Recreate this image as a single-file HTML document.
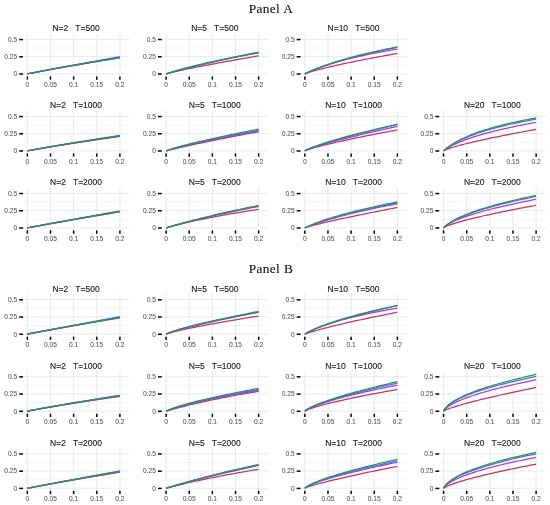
<!DOCTYPE html>
<html><head><meta charset="utf-8"><title>Panels</title><style>
html,body{margin:0;padding:0;background:#fff;overflow:hidden;width:550px;height:505px;}
svg{display:block;}
.mj{stroke:#E6E6E6;stroke-width:0.9;}
.mn{stroke:#F0F0F0;stroke-width:0.7;}
.ln{fill:none;stroke-width:1.25;stroke-linejoin:round;}
.tk{stroke:#000;stroke-width:1.5;}
text{font-family:"Liberation Sans",Arial,sans-serif;}
.yl{font-size:6.65px;fill:#555;stroke:#555;stroke-width:0.06px;text-anchor:end;}
.xl{font-size:6.65px;fill:#555;stroke:#555;stroke-width:0.06px;text-anchor:middle;}
.ti{font-size:8.5px;fill:#1a1a1a;stroke:#1a1a1a;stroke-width:0.12px;text-anchor:middle;}
.pn{font-family:"Liberation Serif","Times New Roman",serif;font-size:13.3px;letter-spacing:0.4px;fill:#111;stroke:#111;stroke-width:0.12px;text-anchor:middle;}
</style></head>
<body><svg width="550" height="505" viewBox="0 0 550 505">
<text x="270.9" y="13.0" class="pn">Panel A</text>
<text x="270.9" y="273.35" class="pn">Panel B</text>
<line x1="22.75" x2="129.35" y1="65.24" y2="65.24" class="mn"/>
<line x1="22.75" x2="129.35" y1="48.01" y2="48.01" class="mn"/>
<line x1="22.75" x2="129.35" y1="73.85" y2="73.85" class="mj"/>
<line x1="22.75" x2="129.35" y1="56.62" y2="56.62" class="mj"/>
<line x1="22.75" x2="129.35" y1="39.4" y2="39.4" class="mj"/>
<line x1="27.35" x2="27.35" y1="33.35" y2="76.4" class="mj"/>
<line x1="50.49" x2="50.49" y1="33.35" y2="76.4" class="mj"/>
<line x1="73.62" x2="73.62" y1="33.35" y2="76.4" class="mj"/>
<line x1="96.76" x2="96.76" y1="33.35" y2="76.4" class="mj"/>
<line x1="119.9" x2="119.9" y1="33.35" y2="76.4" class="mj"/>
<polyline points="27.35,73.85 28.28,73.68 29.2,73.5 30.13,73.33 31.05,73.16 31.98,72.99 33.13,72.77 35.36,72.36 37.58,71.95 39.81,71.54 42.03,71.14 44.26,70.73 46.48,70.33 48.71,69.92 50.93,69.52 53.16,69.12 55.38,68.72 57.61,68.32 59.83,67.92 62.06,67.52 64.28,67.13 66.51,66.73 68.73,66.34 70.96,65.95 73.18,65.55 75.4,65.16 77.63,64.77 79.85,64.38 82.08,63.99 84.3,63.61 86.53,63.22 88.75,62.83 90.98,62.45 93.2,62.07 95.43,61.68 97.65,61.3 99.88,60.92 102.1,60.54 104.33,60.16 106.55,59.78 108.78,59.4 111,59.02 113.23,58.64 115.45,58.27 117.68,57.89 119.9,57.52" stroke="#C23466" class="ln"/>
<polyline points="27.35,73.85 28.28,73.68 29.2,73.5 30.13,73.33 31.05,73.16 31.98,72.98 33.13,72.77 35.36,72.36 37.58,71.94 39.81,71.53 42.03,71.12 44.26,70.72 46.48,70.31 48.71,69.9 50.93,69.5 53.16,69.09 55.38,68.69 57.61,68.29 59.83,67.89 62.06,67.49 64.28,67.09 66.51,66.69 68.73,66.29 70.96,65.9 73.18,65.5 75.4,65.11 77.63,64.72 79.85,64.32 82.08,63.93 84.3,63.54 86.53,63.15 88.75,62.76 90.98,62.37 93.2,61.98 95.43,61.6 97.65,61.21 99.88,60.83 102.1,60.44 104.33,60.06 106.55,59.67 108.78,59.29 111,58.91 113.23,58.53 115.45,58.15 117.68,57.77 119.9,57.39" stroke="#A93BDC" class="ln"/>
<polyline points="27.35,73.85 28.28,73.66 29.2,73.48 30.13,73.3 31.05,73.12 31.98,72.94 33.13,72.71 35.36,72.28 37.58,71.86 39.81,71.43 42.03,71.01 44.26,70.59 46.48,70.17 48.71,69.75 50.93,69.33 53.16,68.91 55.38,68.5 57.61,68.08 59.83,67.67 62.06,67.25 64.28,66.84 66.51,66.43 68.73,66.02 70.96,65.6 73.18,65.19 75.4,64.78 77.63,64.37 79.85,63.96 82.08,63.55 84.3,63.14 86.53,62.73 88.75,62.33 90.98,61.92 93.2,61.51 95.43,61.1 97.65,60.7 99.88,60.29 102.1,59.88 104.33,59.48 106.55,59.07 108.78,58.66 111,58.26 113.23,57.85 115.45,57.45 117.68,57.04 119.9,56.64" stroke="#4671EF" class="ln"/>
<polyline points="27.35,73.85 28.28,73.66 29.2,73.47 30.13,73.28 31.05,73.1 31.98,72.91 33.13,72.68 35.36,72.24 37.58,71.8 39.81,71.36 42.03,70.93 44.26,70.51 46.48,70.09 48.71,69.67 50.93,69.26 53.16,68.85 55.38,68.44 57.61,68.04 59.83,67.64 62.06,67.24 64.28,66.85 66.51,66.46 68.73,66.07 70.96,65.69 73.18,65.31 75.4,64.93 77.63,64.55 79.85,64.18 82.08,63.81 84.3,63.44 86.53,63.08 88.75,62.71 90.98,62.35 93.2,62 95.43,61.64 97.65,61.29 99.88,60.94 102.1,60.59 104.33,60.24 106.55,59.9 108.78,59.55 111,59.21 113.23,58.87 115.45,58.54 117.68,58.2 119.9,57.87" stroke="#2F9052" class="ln"/>
<line x1="19.2" x2="23" y1="74" y2="74" class="tk"/>
<line x1="19.2" x2="23" y1="56.77" y2="56.77" class="tk"/>
<line x1="19.2" x2="23" y1="39.55" y2="39.55" class="tk"/>
<line x1="27.35" x2="27.35" y1="76.4" y2="79.65" class="tk"/>
<line x1="50.49" x2="50.49" y1="76.4" y2="79.65" class="tk"/>
<line x1="73.62" x2="73.62" y1="76.4" y2="79.65" class="tk"/>
<line x1="96.76" x2="96.76" y1="76.4" y2="79.65" class="tk"/>
<line x1="119.9" x2="119.9" y1="76.4" y2="79.65" class="tk"/>
<text x="17.25" y="76.25" class="yl">0</text>
<text x="17.25" y="59.02" class="yl">0.25</text>
<text x="17.25" y="41.8" class="yl">0.5</text>
<text x="27.35" y="86.95" class="xl">0</text>
<text x="50.49" y="86.95" class="xl">0.05</text>
<text x="73.62" y="86.95" class="xl">0.1</text>
<text x="96.76" y="86.95" class="xl">0.15</text>
<text x="119.9" y="86.95" class="xl">0.2</text>
<text x="76.05" y="31.25" class="ti">N=2&#160;&#160;&#160;T=500</text>
<line x1="161.49" x2="268.09" y1="65.24" y2="65.24" class="mn"/>
<line x1="161.49" x2="268.09" y1="48.01" y2="48.01" class="mn"/>
<line x1="161.49" x2="268.09" y1="73.85" y2="73.85" class="mj"/>
<line x1="161.49" x2="268.09" y1="56.62" y2="56.62" class="mj"/>
<line x1="161.49" x2="268.09" y1="39.4" y2="39.4" class="mj"/>
<line x1="166.09" x2="166.09" y1="33.35" y2="76.4" class="mj"/>
<line x1="189.23" x2="189.23" y1="33.35" y2="76.4" class="mj"/>
<line x1="212.37" x2="212.37" y1="33.35" y2="76.4" class="mj"/>
<line x1="235.5" x2="235.5" y1="33.35" y2="76.4" class="mj"/>
<line x1="258.64" x2="258.64" y1="33.35" y2="76.4" class="mj"/>
<polyline points="166.09,73.85 167.02,73.56 167.94,73.31 168.87,73.06 169.79,72.83 170.72,72.6 171.87,72.32 174.1,71.81 176.32,71.3 178.55,70.82 180.77,70.34 183,69.87 185.22,69.4 187.45,68.94 189.67,68.49 191.9,68.05 194.12,67.6 196.35,67.17 198.57,66.73 200.8,66.3 203.02,65.87 205.25,65.45 207.47,65.02 209.7,64.6 211.92,64.19 214.14,63.77 216.37,63.36 218.59,62.95 220.82,62.54 223.04,62.14 225.27,61.73 227.49,61.33 229.72,60.93 231.94,60.53 234.17,60.13 236.39,59.73 238.62,59.34 240.84,58.95 243.07,58.55 245.29,58.16 247.52,57.77 249.74,57.38 251.97,57 254.19,56.61 256.42,56.23 258.64,55.84" stroke="#C23466" class="ln"/>
<polyline points="166.09,73.85 167.02,73.59 167.94,73.33 168.87,73.08 169.79,72.82 170.72,72.57 171.87,72.25 174.1,71.65 176.32,71.06 178.55,70.47 180.77,69.89 183,69.31 185.22,68.74 187.45,68.18 189.67,67.62 191.9,67.07 194.12,66.52 196.35,65.98 198.57,65.44 200.8,64.91 203.02,64.38 205.25,63.86 207.47,63.35 209.7,62.83 211.92,62.32 214.14,61.82 216.37,61.32 218.59,60.82 220.82,60.33 223.04,59.84 225.27,59.36 227.49,58.88 229.72,58.4 231.94,57.93 234.17,57.46 236.39,56.99 238.62,56.53 240.84,56.06 243.07,55.61 245.29,55.15 247.52,54.7 249.74,54.25 251.97,53.81 254.19,53.37 256.42,52.93 258.64,52.49" stroke="#A93BDC" class="ln"/>
<polyline points="166.09,73.85 167.02,73.58 167.94,73.32 168.87,73.05 169.79,72.79 170.72,72.53 171.87,72.2 174.1,71.58 176.32,70.97 178.55,70.37 180.77,69.77 183,69.18 185.22,68.6 187.45,68.02 189.67,67.45 191.9,66.89 194.12,66.33 196.35,65.78 198.57,65.23 200.8,64.69 203.02,64.15 205.25,63.62 207.47,63.1 209.7,62.57 211.92,62.06 214.14,61.55 216.37,61.04 218.59,60.54 220.82,60.04 223.04,59.54 225.27,59.05 227.49,58.57 229.72,58.08 231.94,57.61 234.17,57.13 236.39,56.66 238.62,56.19 240.84,55.73 243.07,55.27 245.29,54.81 247.52,54.36 249.74,53.91 251.97,53.46 254.19,53.02 256.42,52.57 258.64,52.14" stroke="#4671EF" class="ln"/>
<polyline points="166.09,73.85 167.02,73.55 167.94,73.25 168.87,72.96 169.79,72.66 170.72,72.38 171.87,72.02 174.1,71.34 176.32,70.68 178.55,70.04 180.77,69.41 183,68.79 185.22,68.18 187.45,67.59 189.67,67.01 191.9,66.44 194.12,65.88 196.35,65.33 198.57,64.79 200.8,64.26 203.02,63.74 205.25,63.23 207.47,62.72 209.7,62.23 211.92,61.74 214.14,61.26 216.37,60.79 218.59,60.32 220.82,59.86 223.04,59.41 225.27,58.97 227.49,58.53 229.72,58.1 231.94,57.67 234.17,57.25 236.39,56.84 238.62,56.43 240.84,56.02 243.07,55.62 245.29,55.23 247.52,54.84 249.74,54.46 251.97,54.08 254.19,53.7 256.42,53.33 258.64,52.97" stroke="#2F9052" class="ln"/>
<line x1="157.94" x2="161.74" y1="74" y2="74" class="tk"/>
<line x1="157.94" x2="161.74" y1="56.77" y2="56.77" class="tk"/>
<line x1="157.94" x2="161.74" y1="39.55" y2="39.55" class="tk"/>
<line x1="166.09" x2="166.09" y1="76.4" y2="79.65" class="tk"/>
<line x1="189.23" x2="189.23" y1="76.4" y2="79.65" class="tk"/>
<line x1="212.37" x2="212.37" y1="76.4" y2="79.65" class="tk"/>
<line x1="235.5" x2="235.5" y1="76.4" y2="79.65" class="tk"/>
<line x1="258.64" x2="258.64" y1="76.4" y2="79.65" class="tk"/>
<text x="155.99" y="76.25" class="yl">0</text>
<text x="155.99" y="59.02" class="yl">0.25</text>
<text x="155.99" y="41.8" class="yl">0.5</text>
<text x="166.09" y="86.95" class="xl">0</text>
<text x="189.23" y="86.95" class="xl">0.05</text>
<text x="212.37" y="86.95" class="xl">0.1</text>
<text x="235.5" y="86.95" class="xl">0.15</text>
<text x="258.64" y="86.95" class="xl">0.2</text>
<text x="214.79" y="31.25" class="ti">N=5&#160;&#160;&#160;T=500</text>
<line x1="300.23" x2="406.83" y1="65.24" y2="65.24" class="mn"/>
<line x1="300.23" x2="406.83" y1="48.01" y2="48.01" class="mn"/>
<line x1="300.23" x2="406.83" y1="73.85" y2="73.85" class="mj"/>
<line x1="300.23" x2="406.83" y1="56.62" y2="56.62" class="mj"/>
<line x1="300.23" x2="406.83" y1="39.4" y2="39.4" class="mj"/>
<line x1="304.83" x2="304.83" y1="33.35" y2="76.4" class="mj"/>
<line x1="327.97" x2="327.97" y1="33.35" y2="76.4" class="mj"/>
<line x1="351.11" x2="351.11" y1="33.35" y2="76.4" class="mj"/>
<line x1="374.24" x2="374.24" y1="33.35" y2="76.4" class="mj"/>
<line x1="397.38" x2="397.38" y1="33.35" y2="76.4" class="mj"/>
<polyline points="304.83,73.85 305.76,73.51 306.68,73.18 307.61,72.87 308.53,72.57 309.46,72.27 310.61,71.91 312.84,71.25 315.06,70.62 317.29,70.01 319.51,69.42 321.74,68.84 323.96,68.28 326.19,67.74 328.41,67.2 330.64,66.68 332.86,66.16 335.09,65.65 337.31,65.16 339.54,64.66 341.76,64.18 343.99,63.7 346.21,63.23 348.44,62.76 350.66,62.29 352.88,61.84 355.11,61.38 357.33,60.94 359.56,60.49 361.78,60.05 364.01,59.62 366.23,59.18 368.46,58.75 370.68,58.33 372.91,57.91 375.13,57.49 377.36,57.07 379.58,56.66 381.81,56.25 384.03,55.84 386.26,55.43 388.48,55.03 390.71,54.63 392.93,54.23 395.16,53.83 397.38,53.44" stroke="#C23466" class="ln"/>
<polyline points="304.83,73.85 305.76,73.4 306.68,72.96 307.61,72.52 308.53,72.1 309.46,71.68 310.61,71.17 312.84,70.23 315.06,69.32 317.29,68.45 319.51,67.62 321.74,66.81 323.96,66.03 326.19,65.28 328.41,64.56 330.64,63.85 332.86,63.17 335.09,62.51 337.31,61.87 339.54,61.24 341.76,60.63 343.99,60.04 346.21,59.46 348.44,58.9 350.66,58.35 352.88,57.81 355.11,57.29 357.33,56.78 359.56,56.28 361.78,55.78 364.01,55.3 366.23,54.83 368.46,54.37 370.68,53.92 372.91,53.47 375.13,53.04 377.36,52.61 379.58,52.19 381.81,51.78 384.03,51.37 386.26,50.97 388.48,50.58 390.71,50.19 392.93,49.81 395.16,49.44 397.38,49.07" stroke="#A93BDC" class="ln"/>
<polyline points="304.83,73.85 305.76,73.4 306.68,72.97 307.61,72.53 308.53,72.11 309.46,71.69 310.61,71.18 312.84,70.21 315.06,69.28 317.29,68.39 319.51,67.51 321.74,66.67 323.96,65.85 326.19,65.06 328.41,64.28 330.64,63.53 332.86,62.8 335.09,62.08 337.31,61.39 339.54,60.71 341.76,60.04 343.99,59.39 346.21,58.76 348.44,58.14 350.66,57.53 352.88,56.94 355.11,56.35 357.33,55.78 359.56,55.22 361.78,54.67 364.01,54.13 366.23,53.6 368.46,53.08 370.68,52.57 372.91,52.07 375.13,51.58 377.36,51.09 379.58,50.61 381.81,50.14 384.03,49.68 386.26,49.22 388.48,48.78 390.71,48.33 392.93,47.9 395.16,47.47 397.38,47.05" stroke="#4671EF" class="ln"/>
<polyline points="304.83,73.85 305.76,73.42 306.68,72.99 307.61,72.57 308.53,72.16 309.46,71.75 310.61,71.25 312.84,70.32 315.06,69.42 317.29,68.55 319.51,67.7 321.74,66.88 323.96,66.09 326.19,65.31 328.41,64.56 330.64,63.82 332.86,63.1 335.09,62.4 337.31,61.72 339.54,61.05 341.76,60.39 343.99,59.75 346.21,59.12 348.44,58.51 350.66,57.9 352.88,57.31 355.11,56.73 357.33,56.15 359.56,55.59 361.78,55.04 364.01,54.49 366.23,53.96 368.46,53.43 370.68,52.91 372.91,52.4 375.13,51.9 377.36,51.4 379.58,50.91 381.81,50.43 384.03,49.95 386.26,49.48 388.48,49.01 390.71,48.56 392.93,48.1 395.16,47.66 397.38,47.21" stroke="#2F9052" class="ln"/>
<line x1="296.68" x2="300.48" y1="74" y2="74" class="tk"/>
<line x1="296.68" x2="300.48" y1="56.77" y2="56.77" class="tk"/>
<line x1="296.68" x2="300.48" y1="39.55" y2="39.55" class="tk"/>
<line x1="304.83" x2="304.83" y1="76.4" y2="79.65" class="tk"/>
<line x1="327.97" x2="327.97" y1="76.4" y2="79.65" class="tk"/>
<line x1="351.11" x2="351.11" y1="76.4" y2="79.65" class="tk"/>
<line x1="374.24" x2="374.24" y1="76.4" y2="79.65" class="tk"/>
<line x1="397.38" x2="397.38" y1="76.4" y2="79.65" class="tk"/>
<text x="294.73" y="76.25" class="yl">0</text>
<text x="294.73" y="59.02" class="yl">0.25</text>
<text x="294.73" y="41.8" class="yl">0.5</text>
<text x="304.83" y="86.95" class="xl">0</text>
<text x="327.97" y="86.95" class="xl">0.05</text>
<text x="351.11" y="86.95" class="xl">0.1</text>
<text x="374.24" y="86.95" class="xl">0.15</text>
<text x="397.38" y="86.95" class="xl">0.2</text>
<text x="353.53" y="31.25" class="ti">N=10&#160;&#160;&#160;T=500</text>
<line x1="22.75" x2="129.35" y1="142.23" y2="142.23" class="mn"/>
<line x1="22.75" x2="129.35" y1="125" y2="125" class="mn"/>
<line x1="22.75" x2="129.35" y1="150.84" y2="150.84" class="mj"/>
<line x1="22.75" x2="129.35" y1="133.62" y2="133.62" class="mj"/>
<line x1="22.75" x2="129.35" y1="116.39" y2="116.39" class="mj"/>
<line x1="27.35" x2="27.35" y1="110.34" y2="153.39" class="mj"/>
<line x1="50.49" x2="50.49" y1="110.34" y2="153.39" class="mj"/>
<line x1="73.62" x2="73.62" y1="110.34" y2="153.39" class="mj"/>
<line x1="96.76" x2="96.76" y1="110.34" y2="153.39" class="mj"/>
<line x1="119.9" x2="119.9" y1="110.34" y2="153.39" class="mj"/>
<polyline points="27.35,150.84 28.28,150.68 29.2,150.51 30.13,150.35 31.05,150.19 31.98,150.02 33.13,149.82 35.36,149.44 37.58,149.05 39.81,148.67 42.03,148.3 44.26,147.92 46.48,147.55 48.71,147.18 50.93,146.81 53.16,146.45 55.38,146.08 57.61,145.72 59.83,145.36 62.06,145.01 64.28,144.65 66.51,144.3 68.73,143.95 70.96,143.6 73.18,143.25 75.4,142.91 77.63,142.57 79.85,142.23 82.08,141.89 84.3,141.55 86.53,141.21 88.75,140.88 90.98,140.55 93.2,140.22 95.43,139.89 97.65,139.56 99.88,139.23 102.1,138.91 104.33,138.58 106.55,138.26 108.78,137.94 111,137.62 113.23,137.3 115.45,136.99 117.68,136.67 119.9,136.36" stroke="#C23466" class="ln"/>
<polyline points="27.35,150.84 28.28,150.67 29.2,150.51 30.13,150.34 31.05,150.18 31.98,150.01 33.13,149.81 35.36,149.41 37.58,149.03 39.81,148.64 42.03,148.26 44.26,147.87 46.48,147.5 48.71,147.12 50.93,146.75 53.16,146.38 55.38,146.01 57.61,145.64 59.83,145.28 62.06,144.92 64.28,144.56 66.51,144.2 68.73,143.85 70.96,143.49 73.18,143.14 75.4,142.79 77.63,142.45 79.85,142.1 82.08,141.76 84.3,141.42 86.53,141.08 88.75,140.74 90.98,140.4 93.2,140.07 95.43,139.73 97.65,139.4 99.88,139.07 102.1,138.74 104.33,138.41 106.55,138.09 108.78,137.76 111,137.44 113.23,137.12 115.45,136.8 117.68,136.48 119.9,136.16" stroke="#A93BDC" class="ln"/>
<polyline points="27.35,150.84 28.28,150.67 29.2,150.49 30.13,150.32 31.05,150.15 31.98,149.98 33.13,149.77 35.36,149.36 37.58,148.95 39.81,148.55 42.03,148.15 44.26,147.76 46.48,147.36 48.71,146.97 50.93,146.58 53.16,146.19 55.38,145.81 57.61,145.42 59.83,145.04 62.06,144.66 64.28,144.28 66.51,143.91 68.73,143.54 70.96,143.16 73.18,142.79 75.4,142.43 77.63,142.06 79.85,141.7 82.08,141.33 84.3,140.97 86.53,140.61 88.75,140.26 90.98,139.9 93.2,139.55 95.43,139.19 97.65,138.84 99.88,138.49 102.1,138.14 104.33,137.8 106.55,137.45 108.78,137.11 111,136.76 113.23,136.42 115.45,136.08 117.68,135.74 119.9,135.4" stroke="#4671EF" class="ln"/>
<polyline points="27.35,150.84 28.28,150.67 29.2,150.5 30.13,150.33 31.05,150.16 31.98,150 33.13,149.79 35.36,149.39 37.58,148.99 39.81,148.6 42.03,148.21 44.26,147.82 46.48,147.44 48.71,147.06 50.93,146.68 53.16,146.3 55.38,145.93 57.61,145.55 59.83,145.18 62.06,144.82 64.28,144.45 66.51,144.09 68.73,143.72 70.96,143.36 73.18,143.01 75.4,142.65 77.63,142.3 79.85,141.94 82.08,141.59 84.3,141.25 86.53,140.9 88.75,140.55 90.98,140.21 93.2,139.87 95.43,139.53 97.65,139.19 99.88,138.85 102.1,138.52 104.33,138.18 106.55,137.85 108.78,137.52 111,137.19 113.23,136.86 115.45,136.54 117.68,136.21 119.9,135.89" stroke="#2F9052" class="ln"/>
<line x1="19.2" x2="23" y1="150.99" y2="150.99" class="tk"/>
<line x1="19.2" x2="23" y1="133.77" y2="133.77" class="tk"/>
<line x1="19.2" x2="23" y1="116.54" y2="116.54" class="tk"/>
<line x1="27.35" x2="27.35" y1="153.39" y2="156.64" class="tk"/>
<line x1="50.49" x2="50.49" y1="153.39" y2="156.64" class="tk"/>
<line x1="73.62" x2="73.62" y1="153.39" y2="156.64" class="tk"/>
<line x1="96.76" x2="96.76" y1="153.39" y2="156.64" class="tk"/>
<line x1="119.9" x2="119.9" y1="153.39" y2="156.64" class="tk"/>
<text x="17.25" y="153.24" class="yl">0</text>
<text x="17.25" y="136.02" class="yl">0.25</text>
<text x="17.25" y="118.79" class="yl">0.5</text>
<text x="27.35" y="163.94" class="xl">0</text>
<text x="50.49" y="163.94" class="xl">0.05</text>
<text x="73.62" y="163.94" class="xl">0.1</text>
<text x="96.76" y="163.94" class="xl">0.15</text>
<text x="119.9" y="163.94" class="xl">0.2</text>
<text x="76.05" y="108.24" class="ti">N=2&#160;&#160;&#160;T=1000</text>
<line x1="161.49" x2="268.09" y1="142.23" y2="142.23" class="mn"/>
<line x1="161.49" x2="268.09" y1="125" y2="125" class="mn"/>
<line x1="161.49" x2="268.09" y1="150.84" y2="150.84" class="mj"/>
<line x1="161.49" x2="268.09" y1="133.62" y2="133.62" class="mj"/>
<line x1="161.49" x2="268.09" y1="116.39" y2="116.39" class="mj"/>
<line x1="166.09" x2="166.09" y1="110.34" y2="153.39" class="mj"/>
<line x1="189.23" x2="189.23" y1="110.34" y2="153.39" class="mj"/>
<line x1="212.37" x2="212.37" y1="110.34" y2="153.39" class="mj"/>
<line x1="235.5" x2="235.5" y1="110.34" y2="153.39" class="mj"/>
<line x1="258.64" x2="258.64" y1="110.34" y2="153.39" class="mj"/>
<polyline points="166.09,150.84 167.02,150.61 167.94,150.37 168.87,150.14 169.79,149.92 170.72,149.69 171.87,149.41 174.1,148.88 176.32,148.36 178.55,147.85 180.77,147.34 183,146.84 185.22,146.35 187.45,145.86 189.67,145.38 191.9,144.9 194.12,144.42 196.35,143.95 198.57,143.48 200.8,143.02 203.02,142.56 205.25,142.1 207.47,141.64 209.7,141.19 211.92,140.74 214.14,140.29 216.37,139.84 218.59,139.4 220.82,138.96 223.04,138.52 225.27,138.08 227.49,137.65 229.72,137.22 231.94,136.78 234.17,136.35 236.39,135.93 238.62,135.5 240.84,135.08 243.07,134.65 245.29,134.23 247.52,133.81 249.74,133.39 251.97,132.97 254.19,132.56 256.42,132.14 258.64,131.73" stroke="#C23466" class="ln"/>
<polyline points="166.09,150.84 167.02,150.56 167.94,150.28 168.87,150.01 169.79,149.75 170.72,149.49 171.87,149.16 174.1,148.56 176.32,147.97 178.55,147.4 180.77,146.84 183,146.29 185.22,145.75 187.45,145.23 189.67,144.71 191.9,144.2 194.12,143.69 196.35,143.19 198.57,142.7 200.8,142.22 203.02,141.74 205.25,141.26 207.47,140.8 209.7,140.33 211.92,139.87 214.14,139.41 216.37,138.96 218.59,138.51 220.82,138.07 223.04,137.63 225.27,137.19 227.49,136.76 229.72,136.33 231.94,135.9 234.17,135.47 236.39,135.05 238.62,134.63 240.84,134.21 243.07,133.8 245.29,133.39 247.52,132.98 249.74,132.57 251.97,132.17 254.19,131.76 256.42,131.36 258.64,130.96" stroke="#A93BDC" class="ln"/>
<polyline points="166.09,150.84 167.02,150.51 167.94,150.2 168.87,149.9 169.79,149.61 170.72,149.32 171.87,148.98 174.1,148.33 176.32,147.72 178.55,147.12 180.77,146.54 183,145.98 185.22,145.42 187.45,144.88 189.67,144.35 191.9,143.83 194.12,143.32 196.35,142.81 198.57,142.31 200.8,141.82 203.02,141.33 205.25,140.85 207.47,140.37 209.7,139.9 211.92,139.43 214.14,138.96 216.37,138.51 218.59,138.05 220.82,137.6 223.04,137.15 225.27,136.71 227.49,136.26 229.72,135.83 231.94,135.39 234.17,134.96 236.39,134.53 238.62,134.1 240.84,133.68 243.07,133.25 245.29,132.83 247.52,132.42 249.74,132 251.97,131.59 254.19,131.18 256.42,130.77 258.64,130.36" stroke="#4671EF" class="ln"/>
<polyline points="166.09,150.84 167.02,150.5 167.94,150.17 168.87,149.85 169.79,149.55 170.72,149.25 171.87,148.88 174.1,148.2 176.32,147.54 178.55,146.91 180.77,146.29 183,145.69 185.22,145.1 187.45,144.53 189.67,143.97 191.9,143.41 194.12,142.86 196.35,142.33 198.57,141.8 200.8,141.27 203.02,140.75 205.25,140.24 207.47,139.74 209.7,139.24 211.92,138.74 214.14,138.25 216.37,137.76 218.59,137.28 220.82,136.8 223.04,136.33 225.27,135.86 227.49,135.39 229.72,134.93 231.94,134.47 234.17,134.01 236.39,133.56 238.62,133.11 240.84,132.66 243.07,132.21 245.29,131.77 247.52,131.33 249.74,130.89 251.97,130.45 254.19,130.02 256.42,129.59 258.64,129.16" stroke="#2F9052" class="ln"/>
<line x1="157.94" x2="161.74" y1="150.99" y2="150.99" class="tk"/>
<line x1="157.94" x2="161.74" y1="133.77" y2="133.77" class="tk"/>
<line x1="157.94" x2="161.74" y1="116.54" y2="116.54" class="tk"/>
<line x1="166.09" x2="166.09" y1="153.39" y2="156.64" class="tk"/>
<line x1="189.23" x2="189.23" y1="153.39" y2="156.64" class="tk"/>
<line x1="212.37" x2="212.37" y1="153.39" y2="156.64" class="tk"/>
<line x1="235.5" x2="235.5" y1="153.39" y2="156.64" class="tk"/>
<line x1="258.64" x2="258.64" y1="153.39" y2="156.64" class="tk"/>
<text x="155.99" y="153.24" class="yl">0</text>
<text x="155.99" y="136.02" class="yl">0.25</text>
<text x="155.99" y="118.79" class="yl">0.5</text>
<text x="166.09" y="163.94" class="xl">0</text>
<text x="189.23" y="163.94" class="xl">0.05</text>
<text x="212.37" y="163.94" class="xl">0.1</text>
<text x="235.5" y="163.94" class="xl">0.15</text>
<text x="258.64" y="163.94" class="xl">0.2</text>
<text x="214.79" y="108.24" class="ti">N=5&#160;&#160;&#160;T=1000</text>
<line x1="300.23" x2="406.83" y1="142.23" y2="142.23" class="mn"/>
<line x1="300.23" x2="406.83" y1="125" y2="125" class="mn"/>
<line x1="300.23" x2="406.83" y1="150.84" y2="150.84" class="mj"/>
<line x1="300.23" x2="406.83" y1="133.62" y2="133.62" class="mj"/>
<line x1="300.23" x2="406.83" y1="116.39" y2="116.39" class="mj"/>
<line x1="304.83" x2="304.83" y1="110.34" y2="153.39" class="mj"/>
<line x1="327.97" x2="327.97" y1="110.34" y2="153.39" class="mj"/>
<line x1="351.11" x2="351.11" y1="110.34" y2="153.39" class="mj"/>
<line x1="374.24" x2="374.24" y1="110.34" y2="153.39" class="mj"/>
<line x1="397.38" x2="397.38" y1="110.34" y2="153.39" class="mj"/>
<polyline points="304.83,150.84 305.76,150.44 306.68,150.09 307.61,149.76 308.53,149.45 309.46,149.15 310.61,148.78 312.84,148.12 315.06,147.49 317.29,146.88 319.51,146.29 321.74,145.72 323.96,145.16 326.19,144.61 328.41,144.07 330.64,143.55 332.86,143.03 335.09,142.52 337.31,142.01 339.54,141.52 341.76,141.02 343.99,140.54 346.21,140.06 348.44,139.58 350.66,139.11 352.88,138.64 355.11,138.18 357.33,137.72 359.56,137.26 361.78,136.81 364.01,136.36 366.23,135.91 368.46,135.47 370.68,135.03 372.91,134.59 375.13,134.16 377.36,133.73 379.58,133.3 381.81,132.87 384.03,132.45 386.26,132.02 388.48,131.6 390.71,131.19 392.93,130.77 395.16,130.36 397.38,129.94" stroke="#C23466" class="ln"/>
<polyline points="304.83,150.84 305.76,150.38 306.68,149.97 307.61,149.59 308.53,149.23 309.46,148.87 310.61,148.45 312.84,147.68 315.06,146.94 317.29,146.23 319.51,145.54 321.74,144.87 323.96,144.22 326.19,143.58 328.41,142.95 330.64,142.34 332.86,141.73 335.09,141.14 337.31,140.55 339.54,139.97 341.76,139.39 343.99,138.83 346.21,138.27 348.44,137.71 350.66,137.16 352.88,136.62 355.11,136.08 357.33,135.54 359.56,135.01 361.78,134.48 364.01,133.96 366.23,133.44 368.46,132.92 370.68,132.41 372.91,131.9 375.13,131.4 377.36,130.89 379.58,130.39 381.81,129.9 384.03,129.4 386.26,128.91 388.48,128.42 390.71,127.94 392.93,127.45 395.16,126.97 397.38,126.49" stroke="#A93BDC" class="ln"/>
<polyline points="304.83,150.84 305.76,150.36 306.68,149.92 307.61,149.51 308.53,149.12 309.46,148.75 310.61,148.29 312.84,147.45 315.06,146.66 317.29,145.89 319.51,145.15 321.74,144.42 323.96,143.72 326.19,143.03 328.41,142.35 330.64,141.69 332.86,141.03 335.09,140.39 337.31,139.75 339.54,139.13 341.76,138.51 343.99,137.89 346.21,137.29 348.44,136.69 350.66,136.09 352.88,135.51 355.11,134.92 357.33,134.34 359.56,133.77 361.78,133.2 364.01,132.64 366.23,132.08 368.46,131.52 370.68,130.97 372.91,130.42 375.13,129.87 377.36,129.33 379.58,128.79 381.81,128.25 384.03,127.72 386.26,127.19 388.48,126.66 390.71,126.13 392.93,125.61 395.16,125.09 397.38,124.57" stroke="#4671EF" class="ln"/>
<polyline points="304.83,150.84 305.76,150.31 306.68,149.83 307.61,149.38 308.53,148.95 309.46,148.54 310.61,148.05 312.84,147.15 315.06,146.31 317.29,145.5 319.51,144.73 321.74,143.98 323.96,143.25 326.19,142.54 328.41,141.84 330.64,141.16 332.86,140.5 335.09,139.84 337.31,139.2 339.54,138.57 341.76,137.94 343.99,137.33 346.21,136.72 348.44,136.12 350.66,135.53 352.88,134.94 355.11,134.36 357.33,133.79 359.56,133.22 361.78,132.66 364.01,132.1 366.23,131.55 368.46,131 370.68,130.46 372.91,129.92 375.13,129.39 377.36,128.85 379.58,128.33 381.81,127.8 384.03,127.28 386.26,126.77 388.48,126.25 390.71,125.74 392.93,125.24 395.16,124.73 397.38,124.23" stroke="#2F9052" class="ln"/>
<line x1="296.68" x2="300.48" y1="150.99" y2="150.99" class="tk"/>
<line x1="296.68" x2="300.48" y1="133.77" y2="133.77" class="tk"/>
<line x1="296.68" x2="300.48" y1="116.54" y2="116.54" class="tk"/>
<line x1="304.83" x2="304.83" y1="153.39" y2="156.64" class="tk"/>
<line x1="327.97" x2="327.97" y1="153.39" y2="156.64" class="tk"/>
<line x1="351.11" x2="351.11" y1="153.39" y2="156.64" class="tk"/>
<line x1="374.24" x2="374.24" y1="153.39" y2="156.64" class="tk"/>
<line x1="397.38" x2="397.38" y1="153.39" y2="156.64" class="tk"/>
<text x="294.73" y="153.24" class="yl">0</text>
<text x="294.73" y="136.02" class="yl">0.25</text>
<text x="294.73" y="118.79" class="yl">0.5</text>
<text x="304.83" y="163.94" class="xl">0</text>
<text x="327.97" y="163.94" class="xl">0.05</text>
<text x="351.11" y="163.94" class="xl">0.1</text>
<text x="374.24" y="163.94" class="xl">0.15</text>
<text x="397.38" y="163.94" class="xl">0.2</text>
<text x="353.53" y="108.24" class="ti">N=10&#160;&#160;&#160;T=1000</text>
<line x1="438.97" x2="545.57" y1="142.23" y2="142.23" class="mn"/>
<line x1="438.97" x2="545.57" y1="125" y2="125" class="mn"/>
<line x1="438.97" x2="545.57" y1="150.84" y2="150.84" class="mj"/>
<line x1="438.97" x2="545.57" y1="133.62" y2="133.62" class="mj"/>
<line x1="438.97" x2="545.57" y1="116.39" y2="116.39" class="mj"/>
<line x1="443.57" x2="443.57" y1="110.34" y2="153.39" class="mj"/>
<line x1="466.71" x2="466.71" y1="110.34" y2="153.39" class="mj"/>
<line x1="489.85" x2="489.85" y1="110.34" y2="153.39" class="mj"/>
<line x1="512.98" x2="512.98" y1="110.34" y2="153.39" class="mj"/>
<line x1="536.12" x2="536.12" y1="110.34" y2="153.39" class="mj"/>
<polyline points="443.57,150.84 444.5,150.31 445.42,149.88 446.35,149.5 447.27,149.15 448.2,148.81 449.35,148.41 451.58,147.68 453.8,147.01 456.03,146.36 458.25,145.74 460.48,145.14 462.7,144.56 464.93,143.99 467.15,143.44 469.38,142.9 471.6,142.36 473.83,141.84 476.05,141.33 478.28,140.83 480.5,140.33 482.73,139.84 484.95,139.36 487.18,138.88 489.4,138.41 491.62,137.94 493.85,137.48 496.07,137.02 498.3,136.57 500.52,136.12 502.75,135.67 504.97,135.23 507.2,134.8 509.42,134.36 511.65,133.93 513.87,133.51 516.1,133.08 518.32,132.66 520.55,132.24 522.77,131.83 525,131.42 527.22,131.01 529.45,130.6 531.67,130.19 533.9,129.79 536.12,129.39" stroke="#C23466" class="ln"/>
<polyline points="443.57,150.84 444.5,150.15 445.42,149.5 446.35,148.88 447.27,148.29 448.2,147.72 449.35,147.04 451.58,145.81 453.8,144.68 456.03,143.62 458.25,142.63 460.48,141.69 462.7,140.8 464.93,139.94 467.15,139.13 469.38,138.35 471.6,137.59 473.83,136.87 476.05,136.17 478.28,135.49 480.5,134.83 482.73,134.19 484.95,133.57 487.18,132.96 489.4,132.37 491.62,131.8 493.85,131.23 496.07,130.68 498.3,130.15 500.52,129.62 502.75,129.1 504.97,128.6 507.2,128.1 509.42,127.61 511.65,127.14 513.87,126.67 516.1,126.2 518.32,125.75 520.55,125.3 522.77,124.86 525,124.43 527.22,124 529.45,123.58 531.67,123.17 533.9,122.76 536.12,122.35" stroke="#A93BDC" class="ln"/>
<polyline points="443.57,150.84 444.5,150.05 445.42,149.29 446.35,148.57 447.27,147.87 448.2,147.21 449.35,146.41 451.58,144.96 453.8,143.63 456.03,142.38 458.25,141.21 460.48,140.12 462.7,139.08 464.93,138.09 467.15,137.15 469.38,136.26 471.6,135.4 473.83,134.58 476.05,133.78 478.28,133.02 480.5,132.29 482.73,131.58 484.95,130.89 487.18,130.23 489.4,129.58 491.62,128.96 493.85,128.35 496.07,127.75 498.3,127.18 500.52,126.62 502.75,126.07 504.97,125.53 507.2,125.01 509.42,124.5 511.65,124 513.87,123.51 516.1,123.03 518.32,122.56 520.55,122.1 522.77,121.65 525,121.21 527.22,120.77 529.45,120.35 531.67,119.93 533.9,119.52 536.12,119.11" stroke="#4671EF" class="ln"/>
<polyline points="443.57,150.84 444.5,150.02 445.42,149.23 446.35,148.48 447.27,147.75 448.2,147.05 449.35,146.21 451.58,144.69 453.8,143.29 456.03,141.97 458.25,140.74 460.48,139.58 462.7,138.49 464.93,137.45 467.15,136.46 469.38,135.52 471.6,134.62 473.83,133.76 476.05,132.93 478.28,132.14 480.5,131.37 482.73,130.63 484.95,129.92 487.18,129.23 489.4,128.56 491.62,127.91 493.85,127.28 496.07,126.67 498.3,126.08 500.52,125.5 502.75,124.94 504.97,124.39 507.2,123.86 509.42,123.34 511.65,122.83 513.87,122.33 516.1,121.84 518.32,121.37 520.55,120.9 522.77,120.44 525,120 527.22,119.56 529.45,119.13 531.67,118.71 533.9,118.29 536.12,117.89" stroke="#2F9052" class="ln"/>
<line x1="435.42" x2="439.22" y1="150.99" y2="150.99" class="tk"/>
<line x1="435.42" x2="439.22" y1="133.77" y2="133.77" class="tk"/>
<line x1="435.42" x2="439.22" y1="116.54" y2="116.54" class="tk"/>
<line x1="443.57" x2="443.57" y1="153.39" y2="156.64" class="tk"/>
<line x1="466.71" x2="466.71" y1="153.39" y2="156.64" class="tk"/>
<line x1="489.85" x2="489.85" y1="153.39" y2="156.64" class="tk"/>
<line x1="512.98" x2="512.98" y1="153.39" y2="156.64" class="tk"/>
<line x1="536.12" x2="536.12" y1="153.39" y2="156.64" class="tk"/>
<text x="433.47" y="153.24" class="yl">0</text>
<text x="433.47" y="136.02" class="yl">0.25</text>
<text x="433.47" y="118.79" class="yl">0.5</text>
<text x="443.57" y="163.94" class="xl">0</text>
<text x="466.71" y="163.94" class="xl">0.05</text>
<text x="489.85" y="163.94" class="xl">0.1</text>
<text x="512.98" y="163.94" class="xl">0.15</text>
<text x="536.12" y="163.94" class="xl">0.2</text>
<text x="492.27" y="108.24" class="ti">N=20&#160;&#160;&#160;T=1000</text>
<line x1="22.75" x2="129.35" y1="219.23" y2="219.23" class="mn"/>
<line x1="22.75" x2="129.35" y1="202" y2="202" class="mn"/>
<line x1="22.75" x2="129.35" y1="227.84" y2="227.84" class="mj"/>
<line x1="22.75" x2="129.35" y1="210.62" y2="210.62" class="mj"/>
<line x1="22.75" x2="129.35" y1="193.39" y2="193.39" class="mj"/>
<line x1="27.35" x2="27.35" y1="187.34" y2="230.39" class="mj"/>
<line x1="50.49" x2="50.49" y1="187.34" y2="230.39" class="mj"/>
<line x1="73.62" x2="73.62" y1="187.34" y2="230.39" class="mj"/>
<line x1="96.76" x2="96.76" y1="187.34" y2="230.39" class="mj"/>
<line x1="119.9" x2="119.9" y1="187.34" y2="230.39" class="mj"/>
<polyline points="27.35,227.84 28.28,227.67 29.2,227.5 30.13,227.33 31.05,227.17 31.98,227 33.13,226.79 35.36,226.39 37.58,225.99 39.81,225.58 42.03,225.18 44.26,224.79 46.48,224.39 48.71,223.99 50.93,223.59 53.16,223.2 55.38,222.8 57.61,222.41 59.83,222.01 62.06,221.62 64.28,221.23 66.51,220.84 68.73,220.45 70.96,220.06 73.18,219.67 75.4,219.28 77.63,218.89 79.85,218.5 82.08,218.11 84.3,217.73 86.53,217.34 88.75,216.96 90.98,216.57 93.2,216.19 95.43,215.8 97.65,215.42 99.88,215.04 102.1,214.66 104.33,214.27 106.55,213.89 108.78,213.51 111,213.13 113.23,212.75 115.45,212.37 117.68,212 119.9,211.62" stroke="#C23466" class="ln"/>
<polyline points="27.35,227.84 28.28,227.67 29.2,227.5 30.13,227.33 31.05,227.17 31.98,227 33.13,226.79 35.36,226.39 37.58,225.98 39.81,225.58 42.03,225.19 44.26,224.79 46.48,224.39 48.71,224 50.93,223.61 53.16,223.21 55.38,222.82 57.61,222.43 59.83,222.04 62.06,221.66 64.28,221.27 66.51,220.88 68.73,220.5 70.96,220.11 73.18,219.73 75.4,219.35 77.63,218.97 79.85,218.59 82.08,218.21 84.3,217.83 86.53,217.45 88.75,217.08 90.98,216.7 93.2,216.33 95.43,215.95 97.65,215.58 99.88,215.21 102.1,214.83 104.33,214.46 106.55,214.09 108.78,213.72 111,213.35 113.23,212.99 115.45,212.62 117.68,212.25 119.9,211.88" stroke="#A93BDC" class="ln"/>
<polyline points="27.35,227.84 28.28,227.66 29.2,227.49 30.13,227.31 31.05,227.14 31.98,226.96 33.13,226.74 35.36,226.32 37.58,225.9 39.81,225.49 42.03,225.07 44.26,224.65 46.48,224.24 48.71,223.83 50.93,223.41 53.16,223 55.38,222.59 57.61,222.18 59.83,221.77 62.06,221.36 64.28,220.95 66.51,220.55 68.73,220.14 70.96,219.74 73.18,219.33 75.4,218.93 77.63,218.53 79.85,218.12 82.08,217.72 84.3,217.32 86.53,216.92 88.75,216.52 90.98,216.12 93.2,215.73 95.43,215.33 97.65,214.93 99.88,214.54 102.1,214.14 104.33,213.74 106.55,213.35 108.78,212.96 111,212.56 113.23,212.17 115.45,211.78 117.68,211.39 119.9,211" stroke="#4671EF" class="ln"/>
<polyline points="27.35,227.84 28.28,227.67 29.2,227.5 30.13,227.33 31.05,227.16 31.98,226.99 33.13,226.77 35.36,226.36 37.58,225.95 39.81,225.55 42.03,225.14 44.26,224.74 46.48,224.33 48.71,223.93 50.93,223.52 53.16,223.12 55.38,222.72 57.61,222.32 59.83,221.92 62.06,221.52 64.28,221.12 66.51,220.72 68.73,220.32 70.96,219.93 73.18,219.53 75.4,219.13 77.63,218.74 79.85,218.35 82.08,217.95 84.3,217.56 86.53,217.17 88.75,216.77 90.98,216.38 93.2,215.99 95.43,215.6 97.65,215.21 99.88,214.82 102.1,214.43 104.33,214.05 106.55,213.66 108.78,213.27 111,212.88 113.23,212.5 115.45,212.11 117.68,211.73 119.9,211.34" stroke="#2F9052" class="ln"/>
<line x1="19.2" x2="23" y1="227.99" y2="227.99" class="tk"/>
<line x1="19.2" x2="23" y1="210.77" y2="210.77" class="tk"/>
<line x1="19.2" x2="23" y1="193.54" y2="193.54" class="tk"/>
<line x1="27.35" x2="27.35" y1="230.39" y2="233.64" class="tk"/>
<line x1="50.49" x2="50.49" y1="230.39" y2="233.64" class="tk"/>
<line x1="73.62" x2="73.62" y1="230.39" y2="233.64" class="tk"/>
<line x1="96.76" x2="96.76" y1="230.39" y2="233.64" class="tk"/>
<line x1="119.9" x2="119.9" y1="230.39" y2="233.64" class="tk"/>
<text x="17.25" y="230.24" class="yl">0</text>
<text x="17.25" y="213.02" class="yl">0.25</text>
<text x="17.25" y="195.79" class="yl">0.5</text>
<text x="27.35" y="240.94" class="xl">0</text>
<text x="50.49" y="240.94" class="xl">0.05</text>
<text x="73.62" y="240.94" class="xl">0.1</text>
<text x="96.76" y="240.94" class="xl">0.15</text>
<text x="119.9" y="240.94" class="xl">0.2</text>
<text x="76.05" y="185.24" class="ti">N=2&#160;&#160;&#160;T=2000</text>
<line x1="161.49" x2="268.09" y1="219.23" y2="219.23" class="mn"/>
<line x1="161.49" x2="268.09" y1="202" y2="202" class="mn"/>
<line x1="161.49" x2="268.09" y1="227.84" y2="227.84" class="mj"/>
<line x1="161.49" x2="268.09" y1="210.62" y2="210.62" class="mj"/>
<line x1="161.49" x2="268.09" y1="193.39" y2="193.39" class="mj"/>
<line x1="166.09" x2="166.09" y1="187.34" y2="230.39" class="mj"/>
<line x1="189.23" x2="189.23" y1="187.34" y2="230.39" class="mj"/>
<line x1="212.37" x2="212.37" y1="187.34" y2="230.39" class="mj"/>
<line x1="235.5" x2="235.5" y1="187.34" y2="230.39" class="mj"/>
<line x1="258.64" x2="258.64" y1="187.34" y2="230.39" class="mj"/>
<polyline points="166.09,227.84 167.02,227.59 167.94,227.33 168.87,227.08 169.79,226.83 170.72,226.59 171.87,226.28 174.1,225.71 176.32,225.14 178.55,224.59 180.77,224.04 183,223.51 185.22,222.98 187.45,222.46 189.67,221.96 191.9,221.46 194.12,220.97 196.35,220.49 198.57,220.01 200.8,219.54 203.02,219.08 205.25,218.63 207.47,218.18 209.7,217.74 211.92,217.31 214.14,216.88 216.37,216.46 218.59,216.04 220.82,215.63 223.04,215.23 225.27,214.83 227.49,214.43 229.72,214.04 231.94,213.66 234.17,213.28 236.39,212.9 238.62,212.53 240.84,212.16 243.07,211.8 245.29,211.44 247.52,211.09 249.74,210.74 251.97,210.39 254.19,210.05 256.42,209.71 258.64,209.38" stroke="#C23466" class="ln"/>
<polyline points="166.09,227.84 167.02,227.58 167.94,227.32 168.87,227.06 169.79,226.8 170.72,226.54 171.87,226.23 174.1,225.62 176.32,225.02 178.55,224.43 180.77,223.84 183,223.26 185.22,222.69 187.45,222.12 189.67,221.56 191.9,221.01 194.12,220.46 196.35,219.91 198.57,219.37 200.8,218.84 203.02,218.31 205.25,217.79 207.47,217.27 209.7,216.76 211.92,216.25 214.14,215.74 216.37,215.24 218.59,214.75 220.82,214.25 223.04,213.77 225.27,213.28 227.49,212.8 229.72,212.32 231.94,211.85 234.17,211.38 236.39,210.92 238.62,210.45 240.84,209.99 243.07,209.54 245.29,209.09 247.52,208.64 249.74,208.19 251.97,207.75 254.19,207.31 256.42,206.87 258.64,206.44" stroke="#A93BDC" class="ln"/>
<polyline points="166.09,227.84 167.02,227.57 167.94,227.29 168.87,227.02 169.79,226.75 170.72,226.48 171.87,226.15 174.1,225.51 176.32,224.88 178.55,224.26 180.77,223.65 183,223.04 185.22,222.45 187.45,221.86 189.67,221.27 191.9,220.69 194.12,220.12 196.35,219.55 198.57,218.99 200.8,218.44 203.02,217.89 205.25,217.34 207.47,216.8 209.7,216.27 211.92,215.74 214.14,215.22 216.37,214.7 218.59,214.18 220.82,213.67 223.04,213.17 225.27,212.67 227.49,212.17 229.72,211.67 231.94,211.18 234.17,210.7 236.39,210.22 238.62,209.74 240.84,209.26 243.07,208.79 245.29,208.32 247.52,207.86 249.74,207.4 251.97,206.94 254.19,206.49 256.42,206.03 258.64,205.59" stroke="#4671EF" class="ln"/>
<polyline points="166.09,227.84 167.02,227.57 167.94,227.29 168.87,227.02 169.79,226.75 170.72,226.48 171.87,226.15 174.1,225.51 176.32,224.88 178.55,224.26 180.77,223.65 183,223.04 185.22,222.45 187.45,221.86 189.67,221.27 191.9,220.69 194.12,220.12 196.35,219.55 198.57,218.99 200.8,218.44 203.02,217.89 205.25,217.34 207.47,216.8 209.7,216.27 211.92,215.74 214.14,215.22 216.37,214.7 218.59,214.18 220.82,213.67 223.04,213.17 225.27,212.67 227.49,212.17 229.72,211.67 231.94,211.18 234.17,210.7 236.39,210.22 238.62,209.74 240.84,209.26 243.07,208.79 245.29,208.32 247.52,207.86 249.74,207.4 251.97,206.94 254.19,206.49 256.42,206.03 258.64,205.59" stroke="#2F9052" class="ln"/>
<line x1="157.94" x2="161.74" y1="227.99" y2="227.99" class="tk"/>
<line x1="157.94" x2="161.74" y1="210.77" y2="210.77" class="tk"/>
<line x1="157.94" x2="161.74" y1="193.54" y2="193.54" class="tk"/>
<line x1="166.09" x2="166.09" y1="230.39" y2="233.64" class="tk"/>
<line x1="189.23" x2="189.23" y1="230.39" y2="233.64" class="tk"/>
<line x1="212.37" x2="212.37" y1="230.39" y2="233.64" class="tk"/>
<line x1="235.5" x2="235.5" y1="230.39" y2="233.64" class="tk"/>
<line x1="258.64" x2="258.64" y1="230.39" y2="233.64" class="tk"/>
<text x="155.99" y="230.24" class="yl">0</text>
<text x="155.99" y="213.02" class="yl">0.25</text>
<text x="155.99" y="195.79" class="yl">0.5</text>
<text x="166.09" y="240.94" class="xl">0</text>
<text x="189.23" y="240.94" class="xl">0.05</text>
<text x="212.37" y="240.94" class="xl">0.1</text>
<text x="235.5" y="240.94" class="xl">0.15</text>
<text x="258.64" y="240.94" class="xl">0.2</text>
<text x="214.79" y="185.24" class="ti">N=5&#160;&#160;&#160;T=2000</text>
<line x1="300.23" x2="406.83" y1="219.23" y2="219.23" class="mn"/>
<line x1="300.23" x2="406.83" y1="202" y2="202" class="mn"/>
<line x1="300.23" x2="406.83" y1="227.84" y2="227.84" class="mj"/>
<line x1="300.23" x2="406.83" y1="210.62" y2="210.62" class="mj"/>
<line x1="300.23" x2="406.83" y1="193.39" y2="193.39" class="mj"/>
<line x1="304.83" x2="304.83" y1="187.34" y2="230.39" class="mj"/>
<line x1="327.97" x2="327.97" y1="187.34" y2="230.39" class="mj"/>
<line x1="351.11" x2="351.11" y1="187.34" y2="230.39" class="mj"/>
<line x1="374.24" x2="374.24" y1="187.34" y2="230.39" class="mj"/>
<line x1="397.38" x2="397.38" y1="187.34" y2="230.39" class="mj"/>
<polyline points="304.83,227.84 305.76,227.5 306.68,227.2 307.61,226.91 308.53,226.64 309.46,226.37 310.61,226.05 312.84,225.45 315.06,224.88 317.29,224.31 319.51,223.77 321.74,223.23 323.96,222.7 326.19,222.18 328.41,221.67 330.64,221.16 332.86,220.66 335.09,220.16 337.31,219.67 339.54,219.18 341.76,218.7 343.99,218.22 346.21,217.75 348.44,217.27 350.66,216.8 352.88,216.34 355.11,215.87 357.33,215.41 359.56,214.95 361.78,214.5 364.01,214.05 366.23,213.59 368.46,213.14 370.68,212.7 372.91,212.25 375.13,211.81 377.36,211.37 379.58,210.93 381.81,210.49 384.03,210.05 386.26,209.62 388.48,209.19 390.71,208.75 392.93,208.32 395.16,207.89 397.38,207.47" stroke="#C23466" class="ln"/>
<polyline points="304.83,227.84 305.76,227.48 306.68,227.12 307.61,226.77 308.53,226.42 309.46,226.07 310.61,225.65 312.84,224.85 315.06,224.06 317.29,223.3 319.51,222.56 321.74,221.83 323.96,221.12 326.19,220.43 328.41,219.75 330.64,219.09 332.86,218.44 335.09,217.81 337.31,217.18 339.54,216.57 341.76,215.97 343.99,215.38 346.21,214.81 348.44,214.24 350.66,213.68 352.88,213.13 355.11,212.6 357.33,212.07 359.56,211.55 361.78,211.04 364.01,210.53 366.23,210.04 368.46,209.55 370.68,209.07 372.91,208.59 375.13,208.13 377.36,207.66 379.58,207.21 381.81,206.76 384.03,206.32 386.26,205.89 388.48,205.46 390.71,205.03 392.93,204.61 395.16,204.2 397.38,203.79" stroke="#A93BDC" class="ln"/>
<polyline points="304.83,227.84 305.76,227.42 306.68,227 307.61,226.6 308.53,226.21 309.46,225.83 310.61,225.37 312.84,224.51 315.06,223.68 317.29,222.89 319.51,222.13 321.74,221.39 323.96,220.67 326.19,219.97 328.41,219.29 330.64,218.63 332.86,217.98 335.09,217.35 337.31,216.72 339.54,216.11 341.76,215.52 343.99,214.93 346.21,214.35 348.44,213.78 350.66,213.22 352.88,212.67 355.11,212.12 357.33,211.59 359.56,211.06 361.78,210.53 364.01,210.02 366.23,209.5 368.46,209 370.68,208.5 372.91,208.01 375.13,207.52 377.36,207.04 379.58,206.56 381.81,206.08 384.03,205.61 386.26,205.15 388.48,204.69 390.71,204.23 392.93,203.78 395.16,203.33 397.38,202.88" stroke="#4671EF" class="ln"/>
<polyline points="304.83,227.84 305.76,227.39 306.68,226.96 307.61,226.54 308.53,226.12 309.46,225.71 310.61,225.22 312.84,224.29 315.06,223.4 317.29,222.55 319.51,221.73 321.74,220.94 323.96,220.17 326.19,219.42 328.41,218.7 330.64,217.99 332.86,217.31 335.09,216.63 337.31,215.98 339.54,215.34 341.76,214.71 343.99,214.1 346.21,213.5 348.44,212.9 350.66,212.32 352.88,211.75 355.11,211.2 357.33,210.64 359.56,210.1 361.78,209.57 364.01,209.04 366.23,208.53 368.46,208.02 370.68,207.51 372.91,207.02 375.13,206.53 377.36,206.04 379.58,205.57 381.81,205.1 384.03,204.63 386.26,204.17 388.48,203.72 390.71,203.27 392.93,202.82 395.16,202.38 397.38,201.95" stroke="#2F9052" class="ln"/>
<line x1="296.68" x2="300.48" y1="227.99" y2="227.99" class="tk"/>
<line x1="296.68" x2="300.48" y1="210.77" y2="210.77" class="tk"/>
<line x1="296.68" x2="300.48" y1="193.54" y2="193.54" class="tk"/>
<line x1="304.83" x2="304.83" y1="230.39" y2="233.64" class="tk"/>
<line x1="327.97" x2="327.97" y1="230.39" y2="233.64" class="tk"/>
<line x1="351.11" x2="351.11" y1="230.39" y2="233.64" class="tk"/>
<line x1="374.24" x2="374.24" y1="230.39" y2="233.64" class="tk"/>
<line x1="397.38" x2="397.38" y1="230.39" y2="233.64" class="tk"/>
<text x="294.73" y="230.24" class="yl">0</text>
<text x="294.73" y="213.02" class="yl">0.25</text>
<text x="294.73" y="195.79" class="yl">0.5</text>
<text x="304.83" y="240.94" class="xl">0</text>
<text x="327.97" y="240.94" class="xl">0.05</text>
<text x="351.11" y="240.94" class="xl">0.1</text>
<text x="374.24" y="240.94" class="xl">0.15</text>
<text x="397.38" y="240.94" class="xl">0.2</text>
<text x="353.53" y="185.24" class="ti">N=10&#160;&#160;&#160;T=2000</text>
<line x1="438.97" x2="545.57" y1="219.23" y2="219.23" class="mn"/>
<line x1="438.97" x2="545.57" y1="202" y2="202" class="mn"/>
<line x1="438.97" x2="545.57" y1="227.84" y2="227.84" class="mj"/>
<line x1="438.97" x2="545.57" y1="210.62" y2="210.62" class="mj"/>
<line x1="438.97" x2="545.57" y1="193.39" y2="193.39" class="mj"/>
<line x1="443.57" x2="443.57" y1="187.34" y2="230.39" class="mj"/>
<line x1="466.71" x2="466.71" y1="187.34" y2="230.39" class="mj"/>
<line x1="489.85" x2="489.85" y1="187.34" y2="230.39" class="mj"/>
<line x1="512.98" x2="512.98" y1="187.34" y2="230.39" class="mj"/>
<line x1="536.12" x2="536.12" y1="187.34" y2="230.39" class="mj"/>
<polyline points="443.57,227.84 444.5,227.22 445.42,226.73 446.35,226.3 447.27,225.9 448.2,225.53 449.35,225.09 451.58,224.3 453.8,223.56 456.03,222.87 458.25,222.2 460.48,221.56 462.7,220.95 464.93,220.35 467.15,219.77 469.38,219.2 471.6,218.64 473.83,218.1 476.05,217.56 478.28,217.04 480.5,216.52 482.73,216.01 484.95,215.51 487.18,215.02 489.4,214.53 491.62,214.05 493.85,213.58 496.07,213.11 498.3,212.64 500.52,212.18 502.75,211.73 504.97,211.28 507.2,210.83 509.42,210.39 511.65,209.95 513.87,209.52 516.1,209.09 518.32,208.66 520.55,208.23 522.77,207.81 525,207.39 527.22,206.98 529.45,206.57 531.67,206.16 533.9,205.75 536.12,205.35" stroke="#C23466" class="ln"/>
<polyline points="443.57,227.84 444.5,226.92 445.42,226.14 446.35,225.45 447.27,224.82 448.2,224.23 449.35,223.55 451.58,222.36 453.8,221.28 456.03,220.28 458.25,219.35 460.48,218.47 462.7,217.64 464.93,216.84 467.15,216.08 469.38,215.34 471.6,214.63 473.83,213.94 476.05,213.26 478.28,212.61 480.5,211.98 482.73,211.36 484.95,210.75 487.18,210.16 489.4,209.58 491.62,209.01 493.85,208.45 496.07,207.9 498.3,207.36 500.52,206.83 502.75,206.31 504.97,205.8 507.2,205.29 509.42,204.79 511.65,204.3 513.87,203.81 516.1,203.33 518.32,202.86 520.55,202.39 522.77,201.93 525,201.47 527.22,201.02 529.45,200.58 531.67,200.13 533.9,199.7 536.12,199.26" stroke="#A93BDC" class="ln"/>
<polyline points="443.57,227.84 444.5,226.96 445.42,226.15 446.35,225.41 447.27,224.71 448.2,224.05 449.35,223.28 451.58,221.9 453.8,220.66 456.03,219.5 458.25,218.43 460.48,217.42 462.7,216.46 464.93,215.55 467.15,214.67 469.38,213.84 471.6,213.03 473.83,212.26 476.05,211.51 478.28,210.78 480.5,210.07 482.73,209.39 484.95,208.72 487.18,208.07 489.4,207.43 491.62,206.81 493.85,206.2 496.07,205.61 498.3,205.03 500.52,204.45 502.75,203.89 504.97,203.34 507.2,202.8 509.42,202.27 511.65,201.75 513.87,201.24 516.1,200.73 518.32,200.23 520.55,199.74 522.77,199.25 525,198.78 527.22,198.31 529.45,197.84 531.67,197.38 533.9,196.93 536.12,196.48" stroke="#4671EF" class="ln"/>
<polyline points="443.57,227.84 444.5,226.87 445.42,226 446.35,225.2 447.27,224.47 448.2,223.78 449.35,222.97 451.58,221.55 453.8,220.26 456.03,219.07 458.25,217.97 460.48,216.93 462.7,215.95 464.93,215.02 467.15,214.12 469.38,213.26 471.6,212.44 473.83,211.64 476.05,210.87 478.28,210.13 480.5,209.4 482.73,208.7 484.95,208.01 487.18,207.34 489.4,206.68 491.62,206.04 493.85,205.42 496.07,204.8 498.3,204.2 500.52,203.61 502.75,203.04 504.97,202.47 507.2,201.91 509.42,201.36 511.65,200.82 513.87,200.28 516.1,199.76 518.32,199.24 520.55,198.73 522.77,198.23 525,197.73 527.22,197.24 529.45,196.76 531.67,196.28 533.9,195.81 536.12,195.35" stroke="#2F9052" class="ln"/>
<line x1="435.42" x2="439.22" y1="227.99" y2="227.99" class="tk"/>
<line x1="435.42" x2="439.22" y1="210.77" y2="210.77" class="tk"/>
<line x1="435.42" x2="439.22" y1="193.54" y2="193.54" class="tk"/>
<line x1="443.57" x2="443.57" y1="230.39" y2="233.64" class="tk"/>
<line x1="466.71" x2="466.71" y1="230.39" y2="233.64" class="tk"/>
<line x1="489.85" x2="489.85" y1="230.39" y2="233.64" class="tk"/>
<line x1="512.98" x2="512.98" y1="230.39" y2="233.64" class="tk"/>
<line x1="536.12" x2="536.12" y1="230.39" y2="233.64" class="tk"/>
<text x="433.47" y="230.24" class="yl">0</text>
<text x="433.47" y="213.02" class="yl">0.25</text>
<text x="433.47" y="195.79" class="yl">0.5</text>
<text x="443.57" y="240.94" class="xl">0</text>
<text x="466.71" y="240.94" class="xl">0.05</text>
<text x="489.85" y="240.94" class="xl">0.1</text>
<text x="512.98" y="240.94" class="xl">0.15</text>
<text x="536.12" y="240.94" class="xl">0.2</text>
<text x="492.27" y="185.24" class="ti">N=20&#160;&#160;&#160;T=2000</text>
<line x1="22.75" x2="129.35" y1="325.49" y2="325.49" class="mn"/>
<line x1="22.75" x2="129.35" y1="308.26" y2="308.26" class="mn"/>
<line x1="22.75" x2="129.35" y1="334.1" y2="334.1" class="mj"/>
<line x1="22.75" x2="129.35" y1="316.88" y2="316.88" class="mj"/>
<line x1="22.75" x2="129.35" y1="299.65" y2="299.65" class="mj"/>
<line x1="27.35" x2="27.35" y1="293.6" y2="336.65" class="mj"/>
<line x1="50.49" x2="50.49" y1="293.6" y2="336.65" class="mj"/>
<line x1="73.62" x2="73.62" y1="293.6" y2="336.65" class="mj"/>
<line x1="96.76" x2="96.76" y1="293.6" y2="336.65" class="mj"/>
<line x1="119.9" x2="119.9" y1="293.6" y2="336.65" class="mj"/>
<polyline points="27.35,334.1 28.28,333.93 29.2,333.76 30.13,333.59 31.05,333.42 31.98,333.25 33.13,333.04 35.36,332.63 37.58,332.22 39.81,331.81 42.03,331.41 44.26,331 46.48,330.6 48.71,330.19 50.93,329.79 53.16,329.39 55.38,328.98 57.61,328.58 59.83,328.18 62.06,327.78 64.28,327.38 66.51,326.98 68.73,326.58 70.96,326.18 73.18,325.78 75.4,325.38 77.63,324.98 79.85,324.58 82.08,324.18 84.3,323.79 86.53,323.39 88.75,323 90.98,322.6 93.2,322.2 95.43,321.81 97.65,321.41 99.88,321.02 102.1,320.63 104.33,320.23 106.55,319.84 108.78,319.45 111,319.05 113.23,318.66 115.45,318.27 117.68,317.88 119.9,317.49" stroke="#C23466" class="ln"/>
<polyline points="27.35,334.1 28.28,333.93 29.2,333.76 30.13,333.59 31.05,333.42 31.98,333.25 33.13,333.03 35.36,332.62 37.58,332.21 39.81,331.8 42.03,331.4 44.26,330.99 46.48,330.58 48.71,330.17 50.93,329.77 53.16,329.36 55.38,328.96 57.61,328.55 59.83,328.15 62.06,327.74 64.28,327.34 66.51,326.93 68.73,326.53 70.96,326.13 73.18,325.73 75.4,325.32 77.63,324.92 79.85,324.52 82.08,324.12 84.3,323.72 86.53,323.32 88.75,322.92 90.98,322.52 93.2,322.12 95.43,321.72 97.65,321.33 99.88,320.93 102.1,320.53 104.33,320.13 106.55,319.74 108.78,319.34 111,318.94 113.23,318.55 115.45,318.15 117.68,317.75 119.9,317.36" stroke="#A93BDC" class="ln"/>
<polyline points="27.35,334.1 28.28,333.92 29.2,333.74 30.13,333.57 31.05,333.39 31.98,333.21 33.13,332.99 35.36,332.57 37.58,332.15 39.81,331.72 42.03,331.3 44.26,330.88 46.48,330.46 48.71,330.04 50.93,329.61 53.16,329.19 55.38,328.77 57.61,328.35 59.83,327.93 62.06,327.51 64.28,327.09 66.51,326.67 68.73,326.25 70.96,325.83 73.18,325.41 75.4,324.99 77.63,324.57 79.85,324.15 82.08,323.73 84.3,323.32 86.53,322.9 88.75,322.48 90.98,322.06 93.2,321.64 95.43,321.22 97.65,320.8 99.88,320.38 102.1,319.96 104.33,319.55 106.55,319.13 108.78,318.71 111,318.29 113.23,317.87 115.45,317.45 117.68,317.04 119.9,316.62" stroke="#4671EF" class="ln"/>
<polyline points="27.35,334.1 28.28,333.91 29.2,333.73 30.13,333.54 31.05,333.36 31.98,333.17 33.13,332.94 35.36,332.5 37.58,332.07 39.81,331.64 42.03,331.21 44.26,330.79 46.48,330.37 48.71,329.95 50.93,329.54 53.16,329.13 55.38,328.72 57.61,328.31 59.83,327.91 62.06,327.51 64.28,327.11 66.51,326.72 68.73,326.33 70.96,325.94 73.18,325.55 75.4,325.17 77.63,324.79 79.85,324.41 82.08,324.03 84.3,323.66 86.53,323.28 88.75,322.91 90.98,322.54 93.2,322.18 95.43,321.81 97.65,321.45 99.88,321.09 102.1,320.73 104.33,320.37 106.55,320.02 108.78,319.66 111,319.31 113.23,318.96 115.45,318.61 117.68,318.27 119.9,317.92" stroke="#2F9052" class="ln"/>
<line x1="19.2" x2="23" y1="334.25" y2="334.25" class="tk"/>
<line x1="19.2" x2="23" y1="317.02" y2="317.02" class="tk"/>
<line x1="19.2" x2="23" y1="299.8" y2="299.8" class="tk"/>
<line x1="27.35" x2="27.35" y1="336.65" y2="339.9" class="tk"/>
<line x1="50.49" x2="50.49" y1="336.65" y2="339.9" class="tk"/>
<line x1="73.62" x2="73.62" y1="336.65" y2="339.9" class="tk"/>
<line x1="96.76" x2="96.76" y1="336.65" y2="339.9" class="tk"/>
<line x1="119.9" x2="119.9" y1="336.65" y2="339.9" class="tk"/>
<text x="17.25" y="336.5" class="yl">0</text>
<text x="17.25" y="319.27" class="yl">0.25</text>
<text x="17.25" y="302.05" class="yl">0.5</text>
<text x="27.35" y="347.2" class="xl">0</text>
<text x="50.49" y="347.2" class="xl">0.05</text>
<text x="73.62" y="347.2" class="xl">0.1</text>
<text x="96.76" y="347.2" class="xl">0.15</text>
<text x="119.9" y="347.2" class="xl">0.2</text>
<text x="76.05" y="291.5" class="ti">N=2&#160;&#160;&#160;T=500</text>
<line x1="161.49" x2="268.09" y1="325.49" y2="325.49" class="mn"/>
<line x1="161.49" x2="268.09" y1="308.26" y2="308.26" class="mn"/>
<line x1="161.49" x2="268.09" y1="334.1" y2="334.1" class="mj"/>
<line x1="161.49" x2="268.09" y1="316.88" y2="316.88" class="mj"/>
<line x1="161.49" x2="268.09" y1="299.65" y2="299.65" class="mj"/>
<line x1="166.09" x2="166.09" y1="293.6" y2="336.65" class="mj"/>
<line x1="189.23" x2="189.23" y1="293.6" y2="336.65" class="mj"/>
<line x1="212.37" x2="212.37" y1="293.6" y2="336.65" class="mj"/>
<line x1="235.5" x2="235.5" y1="293.6" y2="336.65" class="mj"/>
<line x1="258.64" x2="258.64" y1="293.6" y2="336.65" class="mj"/>
<polyline points="166.09,334.1 167.02,333.73 167.94,333.42 168.87,333.13 169.79,332.86 170.72,332.6 171.87,332.29 174.1,331.72 176.32,331.18 178.55,330.66 180.77,330.15 183,329.66 185.22,329.18 187.45,328.71 189.67,328.25 191.9,327.8 194.12,327.35 196.35,326.91 198.57,326.48 200.8,326.05 203.02,325.62 205.25,325.2 207.47,324.79 209.7,324.38 211.92,323.97 214.14,323.57 216.37,323.17 218.59,322.77 220.82,322.38 223.04,321.99 225.27,321.6 227.49,321.21 229.72,320.83 231.94,320.45 234.17,320.07 236.39,319.69 238.62,319.32 240.84,318.95 243.07,318.58 245.29,318.21 247.52,317.85 249.74,317.48 251.97,317.12 254.19,316.76 256.42,316.4 258.64,316.04" stroke="#C23466" class="ln"/>
<polyline points="166.09,334.1 167.02,333.68 167.94,333.33 168.87,333 169.79,332.68 170.72,332.38 171.87,332.01 174.1,331.34 176.32,330.69 178.55,330.07 180.77,329.46 183,328.87 185.22,328.29 187.45,327.72 189.67,327.16 191.9,326.61 194.12,326.07 196.35,325.53 198.57,325 200.8,324.48 203.02,323.96 205.25,323.44 207.47,322.93 209.7,322.43 211.92,321.93 214.14,321.43 216.37,320.94 218.59,320.45 220.82,319.96 223.04,319.48 225.27,319 227.49,318.52 229.72,318.05 231.94,317.57 234.17,317.1 236.39,316.64 238.62,316.17 240.84,315.71 243.07,315.25 245.29,314.79 247.52,314.34 249.74,313.88 251.97,313.43 254.19,312.98 256.42,312.53 258.64,312.08" stroke="#A93BDC" class="ln"/>
<polyline points="166.09,334.1 167.02,333.63 167.94,333.23 168.87,332.86 169.79,332.52 170.72,332.19 171.87,331.79 174.1,331.07 176.32,330.38 178.55,329.72 180.77,329.08 183,328.45 185.22,327.85 187.45,327.25 189.67,326.67 191.9,326.1 194.12,325.53 196.35,324.98 198.57,324.43 200.8,323.89 203.02,323.35 205.25,322.82 207.47,322.3 209.7,321.78 211.92,321.27 214.14,320.76 216.37,320.26 218.59,319.76 220.82,319.26 223.04,318.77 225.27,318.28 227.49,317.79 229.72,317.31 231.94,316.83 234.17,316.36 236.39,315.88 238.62,315.41 240.84,314.95 243.07,314.48 245.29,314.02 247.52,313.56 249.74,313.1 251.97,312.65 254.19,312.19 256.42,311.74 258.64,311.29" stroke="#4671EF" class="ln"/>
<polyline points="166.09,334.1 167.02,333.7 167.94,333.32 168.87,332.95 169.79,332.59 170.72,332.24 171.87,331.81 174.1,331.03 176.32,330.28 178.55,329.57 180.77,328.89 183,328.24 185.22,327.6 187.45,326.98 189.67,326.39 191.9,325.8 194.12,325.24 196.35,324.68 198.57,324.14 200.8,323.61 203.02,323.09 205.25,322.58 207.47,322.08 209.7,321.59 211.92,321.1 214.14,320.63 216.37,320.16 218.59,319.7 220.82,319.24 223.04,318.79 225.27,318.35 227.49,317.91 229.72,317.48 231.94,317.05 234.17,316.63 236.39,316.21 238.62,315.8 240.84,315.39 243.07,314.99 245.29,314.59 247.52,314.19 249.74,313.8 251.97,313.41 254.19,313.03 256.42,312.65 258.64,312.27" stroke="#2F9052" class="ln"/>
<line x1="157.94" x2="161.74" y1="334.25" y2="334.25" class="tk"/>
<line x1="157.94" x2="161.74" y1="317.02" y2="317.02" class="tk"/>
<line x1="157.94" x2="161.74" y1="299.8" y2="299.8" class="tk"/>
<line x1="166.09" x2="166.09" y1="336.65" y2="339.9" class="tk"/>
<line x1="189.23" x2="189.23" y1="336.65" y2="339.9" class="tk"/>
<line x1="212.37" x2="212.37" y1="336.65" y2="339.9" class="tk"/>
<line x1="235.5" x2="235.5" y1="336.65" y2="339.9" class="tk"/>
<line x1="258.64" x2="258.64" y1="336.65" y2="339.9" class="tk"/>
<text x="155.99" y="336.5" class="yl">0</text>
<text x="155.99" y="319.27" class="yl">0.25</text>
<text x="155.99" y="302.05" class="yl">0.5</text>
<text x="166.09" y="347.2" class="xl">0</text>
<text x="189.23" y="347.2" class="xl">0.05</text>
<text x="212.37" y="347.2" class="xl">0.1</text>
<text x="235.5" y="347.2" class="xl">0.15</text>
<text x="258.64" y="347.2" class="xl">0.2</text>
<text x="214.79" y="291.5" class="ti">N=5&#160;&#160;&#160;T=500</text>
<line x1="300.23" x2="406.83" y1="325.49" y2="325.49" class="mn"/>
<line x1="300.23" x2="406.83" y1="308.26" y2="308.26" class="mn"/>
<line x1="300.23" x2="406.83" y1="334.1" y2="334.1" class="mj"/>
<line x1="300.23" x2="406.83" y1="316.88" y2="316.88" class="mj"/>
<line x1="300.23" x2="406.83" y1="299.65" y2="299.65" class="mj"/>
<line x1="304.83" x2="304.83" y1="293.6" y2="336.65" class="mj"/>
<line x1="327.97" x2="327.97" y1="293.6" y2="336.65" class="mj"/>
<line x1="351.11" x2="351.11" y1="293.6" y2="336.65" class="mj"/>
<line x1="374.24" x2="374.24" y1="293.6" y2="336.65" class="mj"/>
<line x1="397.38" x2="397.38" y1="293.6" y2="336.65" class="mj"/>
<polyline points="304.83,334.1 305.76,333.78 306.68,333.47 307.61,333.17 308.53,332.87 309.46,332.57 310.61,332.21 312.84,331.54 315.06,330.89 317.29,330.25 319.51,329.63 321.74,329.02 323.96,328.43 326.19,327.85 328.41,327.28 330.64,326.71 332.86,326.16 335.09,325.61 337.31,325.07 339.54,324.54 341.76,324.02 343.99,323.5 346.21,322.98 348.44,322.47 350.66,321.97 352.88,321.47 355.11,320.97 357.33,320.48 359.56,320 361.78,319.52 364.01,319.04 366.23,318.56 368.46,318.09 370.68,317.63 372.91,317.16 375.13,316.7 377.36,316.24 379.58,315.79 381.81,315.33 384.03,314.88 386.26,314.44 388.48,313.99 390.71,313.55 392.93,313.11 395.16,312.68 397.38,312.24" stroke="#C23466" class="ln"/>
<polyline points="304.83,334.1 305.76,333.6 306.68,333.11 307.61,332.64 308.53,332.17 309.46,331.72 310.61,331.17 312.84,330.14 315.06,329.16 317.29,328.23 319.51,327.34 321.74,326.48 323.96,325.65 326.19,324.86 328.41,324.1 330.64,323.36 332.86,322.65 335.09,321.95 337.31,321.29 339.54,320.64 341.76,320.01 343.99,319.39 346.21,318.8 348.44,318.22 350.66,317.65 352.88,317.1 355.11,316.56 357.33,316.04 359.56,315.52 361.78,315.02 364.01,314.53 366.23,314.05 368.46,313.58 370.68,313.12 372.91,312.67 375.13,312.23 377.36,311.79 379.58,311.37 381.81,310.95 384.03,310.54 386.26,310.13 388.48,309.74 390.71,309.35 392.93,308.97 395.16,308.59 397.38,308.22" stroke="#A93BDC" class="ln"/>
<polyline points="304.83,334.1 305.76,333.56 306.68,333.03 307.61,332.52 308.53,332.03 309.46,331.54 310.61,330.96 312.84,329.89 315.06,328.87 317.29,327.9 319.51,326.97 321.74,326.08 323.96,325.22 326.19,324.39 328.41,323.58 330.64,322.81 332.86,322.05 335.09,321.31 337.31,320.59 339.54,319.89 341.76,319.21 343.99,318.54 346.21,317.88 348.44,317.24 350.66,316.61 352.88,315.99 355.11,315.38 357.33,314.78 359.56,314.2 361.78,313.62 364.01,313.05 366.23,312.49 368.46,311.94 370.68,311.4 372.91,310.86 375.13,310.33 377.36,309.81 379.58,309.29 381.81,308.79 384.03,308.28 386.26,307.79 388.48,307.3 390.71,306.81 392.93,306.33 395.16,305.86 397.38,305.39" stroke="#4671EF" class="ln"/>
<polyline points="304.83,334.1 305.76,333.47 306.68,332.89 307.61,332.35 308.53,331.84 309.46,331.36 310.61,330.78 312.84,329.74 315.06,328.78 317.29,327.86 319.51,326.99 321.74,326.15 323.96,325.35 326.19,324.57 328.41,323.81 330.64,323.07 332.86,322.35 335.09,321.65 337.31,320.97 339.54,320.29 341.76,319.64 343.99,318.99 346.21,318.35 348.44,317.72 350.66,317.11 352.88,316.5 355.11,315.9 357.33,315.31 359.56,314.72 361.78,314.15 364.01,313.58 366.23,313.02 368.46,312.46 370.68,311.91 372.91,311.36 375.13,310.82 377.36,310.29 379.58,309.76 381.81,309.23 384.03,308.71 386.26,308.2 388.48,307.69 390.71,307.18 392.93,306.68 395.16,306.18 397.38,305.68" stroke="#2F9052" class="ln"/>
<line x1="296.68" x2="300.48" y1="334.25" y2="334.25" class="tk"/>
<line x1="296.68" x2="300.48" y1="317.02" y2="317.02" class="tk"/>
<line x1="296.68" x2="300.48" y1="299.8" y2="299.8" class="tk"/>
<line x1="304.83" x2="304.83" y1="336.65" y2="339.9" class="tk"/>
<line x1="327.97" x2="327.97" y1="336.65" y2="339.9" class="tk"/>
<line x1="351.11" x2="351.11" y1="336.65" y2="339.9" class="tk"/>
<line x1="374.24" x2="374.24" y1="336.65" y2="339.9" class="tk"/>
<line x1="397.38" x2="397.38" y1="336.65" y2="339.9" class="tk"/>
<text x="294.73" y="336.5" class="yl">0</text>
<text x="294.73" y="319.27" class="yl">0.25</text>
<text x="294.73" y="302.05" class="yl">0.5</text>
<text x="304.83" y="347.2" class="xl">0</text>
<text x="327.97" y="347.2" class="xl">0.05</text>
<text x="351.11" y="347.2" class="xl">0.1</text>
<text x="374.24" y="347.2" class="xl">0.15</text>
<text x="397.38" y="347.2" class="xl">0.2</text>
<text x="353.53" y="291.5" class="ti">N=10&#160;&#160;&#160;T=500</text>
<line x1="22.75" x2="129.35" y1="402.54" y2="402.54" class="mn"/>
<line x1="22.75" x2="129.35" y1="385.31" y2="385.31" class="mn"/>
<line x1="22.75" x2="129.35" y1="411.15" y2="411.15" class="mj"/>
<line x1="22.75" x2="129.35" y1="393.92" y2="393.92" class="mj"/>
<line x1="22.75" x2="129.35" y1="376.7" y2="376.7" class="mj"/>
<line x1="27.35" x2="27.35" y1="370.65" y2="413.7" class="mj"/>
<line x1="50.49" x2="50.49" y1="370.65" y2="413.7" class="mj"/>
<line x1="73.62" x2="73.62" y1="370.65" y2="413.7" class="mj"/>
<line x1="96.76" x2="96.76" y1="370.65" y2="413.7" class="mj"/>
<line x1="119.9" x2="119.9" y1="370.65" y2="413.7" class="mj"/>
<polyline points="27.35,411.15 28.28,410.98 29.2,410.81 30.13,410.64 31.05,410.46 31.98,410.3 33.13,410.08 35.36,409.68 37.58,409.28 39.81,408.89 42.03,408.49 44.26,408.11 46.48,407.72 48.71,407.34 50.93,406.96 53.16,406.58 55.38,406.21 57.61,405.84 59.83,405.47 62.06,405.11 64.28,404.74 66.51,404.38 68.73,404.03 70.96,403.67 73.18,403.32 75.4,402.97 77.63,402.62 79.85,402.28 82.08,401.93 84.3,401.59 86.53,401.25 88.75,400.92 90.98,400.58 93.2,400.25 95.43,399.92 97.65,399.59 99.88,399.26 102.1,398.93 104.33,398.61 106.55,398.29 108.78,397.97 111,397.65 113.23,397.33 115.45,397.02 117.68,396.71 119.9,396.39" stroke="#C23466" class="ln"/>
<polyline points="27.35,411.15 28.28,410.98 29.2,410.8 30.13,410.63 31.05,410.46 31.98,410.29 33.13,410.07 35.36,409.67 37.58,409.26 39.81,408.86 42.03,408.47 44.26,408.07 46.48,407.68 48.71,407.29 50.93,406.91 53.16,406.52 55.38,406.14 57.61,405.77 59.83,405.39 62.06,405.02 64.28,404.65 66.51,404.28 68.73,403.92 70.96,403.55 73.18,403.19 75.4,402.83 77.63,402.48 79.85,402.12 82.08,401.77 84.3,401.42 86.53,401.07 88.75,400.73 90.98,400.38 93.2,400.04 95.43,399.7 97.65,399.36 99.88,399.02 102.1,398.69 104.33,398.35 106.55,398.02 108.78,397.69 111,397.36 113.23,397.03 115.45,396.71 117.68,396.38 119.9,396.06" stroke="#A93BDC" class="ln"/>
<polyline points="27.35,411.15 28.28,410.97 29.2,410.79 30.13,410.61 31.05,410.43 31.98,410.26 33.13,410.04 35.36,409.61 37.58,409.19 39.81,408.78 42.03,408.36 44.26,407.95 46.48,407.54 48.71,407.14 50.93,406.74 53.16,406.34 55.38,405.94 57.61,405.55 59.83,405.15 62.06,404.76 64.28,404.37 66.51,403.99 68.73,403.61 70.96,403.22 73.18,402.85 75.4,402.47 77.63,402.09 79.85,401.72 82.08,401.35 84.3,400.98 86.53,400.61 88.75,400.25 90.98,399.88 93.2,399.52 95.43,399.16 97.65,398.8 99.88,398.44 102.1,398.09 104.33,397.73 106.55,397.38 108.78,397.03 111,396.68 113.23,396.33 115.45,395.99 117.68,395.64 119.9,395.3" stroke="#4671EF" class="ln"/>
<polyline points="27.35,411.15 28.28,410.98 29.2,410.8 30.13,410.63 31.05,410.45 31.98,410.28 33.13,410.07 35.36,409.65 37.58,409.25 39.81,408.84 42.03,408.44 44.26,408.04 46.48,407.64 48.71,407.25 50.93,406.86 53.16,406.47 55.38,406.08 57.61,405.7 59.83,405.31 62.06,404.93 64.28,404.56 66.51,404.18 68.73,403.81 70.96,403.44 73.18,403.07 75.4,402.7 77.63,402.34 79.85,401.97 82.08,401.61 84.3,401.25 86.53,400.89 88.75,400.54 90.98,400.18 93.2,399.83 95.43,399.48 97.65,399.13 99.88,398.78 102.1,398.44 104.33,398.09 106.55,397.75 108.78,397.41 111,397.07 113.23,396.73 115.45,396.39 117.68,396.06 119.9,395.72" stroke="#2F9052" class="ln"/>
<line x1="19.2" x2="23" y1="411.3" y2="411.3" class="tk"/>
<line x1="19.2" x2="23" y1="394.07" y2="394.07" class="tk"/>
<line x1="19.2" x2="23" y1="376.85" y2="376.85" class="tk"/>
<line x1="27.35" x2="27.35" y1="413.7" y2="416.95" class="tk"/>
<line x1="50.49" x2="50.49" y1="413.7" y2="416.95" class="tk"/>
<line x1="73.62" x2="73.62" y1="413.7" y2="416.95" class="tk"/>
<line x1="96.76" x2="96.76" y1="413.7" y2="416.95" class="tk"/>
<line x1="119.9" x2="119.9" y1="413.7" y2="416.95" class="tk"/>
<text x="17.25" y="413.55" class="yl">0</text>
<text x="17.25" y="396.32" class="yl">0.25</text>
<text x="17.25" y="379.1" class="yl">0.5</text>
<text x="27.35" y="424.25" class="xl">0</text>
<text x="50.49" y="424.25" class="xl">0.05</text>
<text x="73.62" y="424.25" class="xl">0.1</text>
<text x="96.76" y="424.25" class="xl">0.15</text>
<text x="119.9" y="424.25" class="xl">0.2</text>
<text x="76.05" y="368.55" class="ti">N=2&#160;&#160;&#160;T=1000</text>
<line x1="161.49" x2="268.09" y1="402.54" y2="402.54" class="mn"/>
<line x1="161.49" x2="268.09" y1="385.31" y2="385.31" class="mn"/>
<line x1="161.49" x2="268.09" y1="411.15" y2="411.15" class="mj"/>
<line x1="161.49" x2="268.09" y1="393.92" y2="393.92" class="mj"/>
<line x1="161.49" x2="268.09" y1="376.7" y2="376.7" class="mj"/>
<line x1="166.09" x2="166.09" y1="370.65" y2="413.7" class="mj"/>
<line x1="189.23" x2="189.23" y1="370.65" y2="413.7" class="mj"/>
<line x1="212.37" x2="212.37" y1="370.65" y2="413.7" class="mj"/>
<line x1="235.5" x2="235.5" y1="370.65" y2="413.7" class="mj"/>
<line x1="258.64" x2="258.64" y1="370.65" y2="413.7" class="mj"/>
<polyline points="166.09,411.15 167.02,410.88 167.94,410.62 168.87,410.36 169.79,410.1 170.72,409.84 171.87,409.52 174.1,408.91 176.32,408.31 178.55,407.73 180.77,407.15 183,406.58 185.22,406.03 187.45,405.48 189.67,404.94 191.9,404.41 194.12,403.88 196.35,403.37 198.57,402.86 200.8,402.36 203.02,401.86 205.25,401.38 207.47,400.9 209.7,400.42 211.92,399.95 214.14,399.49 216.37,399.04 218.59,398.59 220.82,398.14 223.04,397.7 225.27,397.27 227.49,396.84 229.72,396.41 231.94,395.99 234.17,395.58 236.39,395.17 238.62,394.76 240.84,394.36 243.07,393.97 245.29,393.57 247.52,393.19 249.74,392.8 251.97,392.42 254.19,392.04 256.42,391.67 258.64,391.3" stroke="#C23466" class="ln"/>
<polyline points="166.09,411.15 167.02,410.83 167.94,410.51 168.87,410.19 169.79,409.88 170.72,409.58 171.87,409.21 174.1,408.5 176.32,407.82 178.55,407.16 180.77,406.52 183,405.9 185.22,405.29 187.45,404.7 189.67,404.12 191.9,403.55 194.12,403 196.35,402.46 198.57,401.93 200.8,401.41 203.02,400.9 205.25,400.4 207.47,399.91 209.7,399.43 211.92,398.95 214.14,398.49 216.37,398.03 218.59,397.58 220.82,397.14 223.04,396.7 225.27,396.27 227.49,395.85 229.72,395.43 231.94,395.01 234.17,394.61 236.39,394.21 238.62,393.81 240.84,393.42 243.07,393.03 245.29,392.65 247.52,392.27 249.74,391.9 251.97,391.53 254.19,391.17 256.42,390.81 258.64,390.45" stroke="#A93BDC" class="ln"/>
<polyline points="166.09,411.15 167.02,410.75 167.94,410.37 168.87,410 169.79,409.65 170.72,409.3 171.87,408.89 174.1,408.13 176.32,407.41 178.55,406.72 180.77,406.06 183,405.42 185.22,404.8 187.45,404.21 189.67,403.63 191.9,403.06 194.12,402.5 196.35,401.96 198.57,401.43 200.8,400.91 203.02,400.4 205.25,399.9 207.47,399.41 209.7,398.92 211.92,398.44 214.14,397.97 216.37,397.51 218.59,397.05 220.82,396.6 223.04,396.15 225.27,395.71 227.49,395.27 229.72,394.84 231.94,394.41 234.17,393.99 236.39,393.57 238.62,393.16 240.84,392.75 243.07,392.34 245.29,391.94 247.52,391.54 249.74,391.14 251.97,390.75 254.19,390.36 256.42,389.98 258.64,389.59" stroke="#4671EF" class="ln"/>
<polyline points="166.09,411.15 167.02,410.65 167.94,410.2 168.87,409.79 169.79,409.4 170.72,409.03 171.87,408.59 174.1,407.79 176.32,407.05 178.55,406.34 180.77,405.66 183,405.01 185.22,404.37 187.45,403.76 189.67,403.16 191.9,402.58 194.12,402.01 196.35,401.45 198.57,400.9 200.8,400.36 203.02,399.83 205.25,399.31 207.47,398.8 209.7,398.29 211.92,397.79 214.14,397.3 216.37,396.81 218.59,396.33 220.82,395.85 223.04,395.38 225.27,394.92 227.49,394.45 229.72,394 231.94,393.54 234.17,393.09 236.39,392.65 238.62,392.21 240.84,391.77 243.07,391.34 245.29,390.9 247.52,390.48 249.74,390.05 251.97,389.63 254.19,389.21 256.42,388.8 258.64,388.38" stroke="#2F9052" class="ln"/>
<line x1="157.94" x2="161.74" y1="411.3" y2="411.3" class="tk"/>
<line x1="157.94" x2="161.74" y1="394.07" y2="394.07" class="tk"/>
<line x1="157.94" x2="161.74" y1="376.85" y2="376.85" class="tk"/>
<line x1="166.09" x2="166.09" y1="413.7" y2="416.95" class="tk"/>
<line x1="189.23" x2="189.23" y1="413.7" y2="416.95" class="tk"/>
<line x1="212.37" x2="212.37" y1="413.7" y2="416.95" class="tk"/>
<line x1="235.5" x2="235.5" y1="413.7" y2="416.95" class="tk"/>
<line x1="258.64" x2="258.64" y1="413.7" y2="416.95" class="tk"/>
<text x="155.99" y="413.55" class="yl">0</text>
<text x="155.99" y="396.32" class="yl">0.25</text>
<text x="155.99" y="379.1" class="yl">0.5</text>
<text x="166.09" y="424.25" class="xl">0</text>
<text x="189.23" y="424.25" class="xl">0.05</text>
<text x="212.37" y="424.25" class="xl">0.1</text>
<text x="235.5" y="424.25" class="xl">0.15</text>
<text x="258.64" y="424.25" class="xl">0.2</text>
<text x="214.79" y="368.55" class="ti">N=5&#160;&#160;&#160;T=1000</text>
<line x1="300.23" x2="406.83" y1="402.54" y2="402.54" class="mn"/>
<line x1="300.23" x2="406.83" y1="385.31" y2="385.31" class="mn"/>
<line x1="300.23" x2="406.83" y1="411.15" y2="411.15" class="mj"/>
<line x1="300.23" x2="406.83" y1="393.92" y2="393.92" class="mj"/>
<line x1="300.23" x2="406.83" y1="376.7" y2="376.7" class="mj"/>
<line x1="304.83" x2="304.83" y1="370.65" y2="413.7" class="mj"/>
<line x1="327.97" x2="327.97" y1="370.65" y2="413.7" class="mj"/>
<line x1="351.11" x2="351.11" y1="370.65" y2="413.7" class="mj"/>
<line x1="374.24" x2="374.24" y1="370.65" y2="413.7" class="mj"/>
<line x1="397.38" x2="397.38" y1="370.65" y2="413.7" class="mj"/>
<polyline points="304.83,411.15 305.76,410.57 306.68,410.11 307.61,409.7 308.53,409.32 309.46,408.97 310.61,408.55 312.84,407.8 315.06,407.09 317.29,406.43 319.51,405.79 321.74,405.18 323.96,404.59 326.19,404.01 328.41,403.45 330.64,402.9 332.86,402.37 335.09,401.84 337.31,401.33 339.54,400.82 341.76,400.32 343.99,399.83 346.21,399.35 348.44,398.87 350.66,398.4 352.88,397.93 355.11,397.47 357.33,397.02 359.56,396.57 361.78,396.12 364.01,395.68 366.23,395.25 368.46,394.81 370.68,394.38 372.91,393.96 375.13,393.54 377.36,393.12 379.58,392.7 381.81,392.29 384.03,391.88 386.26,391.48 388.48,391.07 390.71,390.67 392.93,390.28 395.16,389.88 397.38,389.49" stroke="#C23466" class="ln"/>
<polyline points="304.83,411.15 305.76,410.55 306.68,410 307.61,409.48 308.53,408.99 309.46,408.52 310.61,407.97 312.84,406.97 315.06,406.05 317.29,405.18 319.51,404.35 321.74,403.56 323.96,402.81 326.19,402.08 328.41,401.38 330.64,400.7 332.86,400.04 335.09,399.39 337.31,398.77 339.54,398.15 341.76,397.55 343.99,396.96 346.21,396.39 348.44,395.82 350.66,395.27 352.88,394.72 355.11,394.19 357.33,393.66 359.56,393.14 361.78,392.63 364.01,392.12 366.23,391.62 368.46,391.13 370.68,390.64 372.91,390.16 375.13,389.69 377.36,389.22 379.58,388.75 381.81,388.3 384.03,387.84 386.26,387.39 388.48,386.95 390.71,386.51 392.93,386.07 395.16,385.64 397.38,385.21" stroke="#A93BDC" class="ln"/>
<polyline points="304.83,411.15 305.76,410.33 306.68,409.69 307.61,409.13 308.53,408.62 309.46,408.14 310.61,407.58 312.84,406.57 315.06,405.64 317.29,404.76 319.51,403.92 321.74,403.12 323.96,402.34 326.19,401.59 328.41,400.86 330.64,400.15 332.86,399.46 335.09,398.78 337.31,398.11 339.54,397.46 341.76,396.82 343.99,396.19 346.21,395.57 348.44,394.96 350.66,394.35 352.88,393.76 355.11,393.17 357.33,392.59 359.56,392.02 361.78,391.45 364.01,390.89 366.23,390.33 368.46,389.78 370.68,389.24 372.91,388.7 375.13,388.16 377.36,387.63 379.58,387.11 381.81,386.59 384.03,386.07 386.26,385.56 388.48,385.05 390.71,384.54 392.93,384.04 395.16,383.54 397.38,383.05" stroke="#4671EF" class="ln"/>
<polyline points="304.83,411.15 305.76,410.26 306.68,409.59 307.61,408.99 308.53,408.45 309.46,407.94 310.61,407.34 312.84,406.28 315.06,405.29 317.29,404.36 319.51,403.48 321.74,402.64 323.96,401.82 326.19,401.03 328.41,400.27 330.64,399.52 332.86,398.79 335.09,398.08 337.31,397.38 339.54,396.7 341.76,396.03 343.99,395.37 346.21,394.72 348.44,394.08 350.66,393.45 352.88,392.83 355.11,392.21 357.33,391.6 359.56,391.01 361.78,390.41 364.01,389.83 366.23,389.25 368.46,388.67 370.68,388.11 372.91,387.54 375.13,386.99 377.36,386.43 379.58,385.88 381.81,385.34 384.03,384.8 386.26,384.27 388.48,383.74 390.71,383.21 392.93,382.69 395.16,382.17 397.38,381.66" stroke="#2F9052" class="ln"/>
<line x1="296.68" x2="300.48" y1="411.3" y2="411.3" class="tk"/>
<line x1="296.68" x2="300.48" y1="394.07" y2="394.07" class="tk"/>
<line x1="296.68" x2="300.48" y1="376.85" y2="376.85" class="tk"/>
<line x1="304.83" x2="304.83" y1="413.7" y2="416.95" class="tk"/>
<line x1="327.97" x2="327.97" y1="413.7" y2="416.95" class="tk"/>
<line x1="351.11" x2="351.11" y1="413.7" y2="416.95" class="tk"/>
<line x1="374.24" x2="374.24" y1="413.7" y2="416.95" class="tk"/>
<line x1="397.38" x2="397.38" y1="413.7" y2="416.95" class="tk"/>
<text x="294.73" y="413.55" class="yl">0</text>
<text x="294.73" y="396.32" class="yl">0.25</text>
<text x="294.73" y="379.1" class="yl">0.5</text>
<text x="304.83" y="424.25" class="xl">0</text>
<text x="327.97" y="424.25" class="xl">0.05</text>
<text x="351.11" y="424.25" class="xl">0.1</text>
<text x="374.24" y="424.25" class="xl">0.15</text>
<text x="397.38" y="424.25" class="xl">0.2</text>
<text x="353.53" y="368.55" class="ti">N=10&#160;&#160;&#160;T=1000</text>
<line x1="438.97" x2="545.57" y1="402.54" y2="402.54" class="mn"/>
<line x1="438.97" x2="545.57" y1="385.31" y2="385.31" class="mn"/>
<line x1="438.97" x2="545.57" y1="411.15" y2="411.15" class="mj"/>
<line x1="438.97" x2="545.57" y1="393.92" y2="393.92" class="mj"/>
<line x1="438.97" x2="545.57" y1="376.7" y2="376.7" class="mj"/>
<line x1="443.57" x2="443.57" y1="370.65" y2="413.7" class="mj"/>
<line x1="466.71" x2="466.71" y1="370.65" y2="413.7" class="mj"/>
<line x1="489.85" x2="489.85" y1="370.65" y2="413.7" class="mj"/>
<line x1="512.98" x2="512.98" y1="370.65" y2="413.7" class="mj"/>
<line x1="536.12" x2="536.12" y1="370.65" y2="413.7" class="mj"/>
<polyline points="443.57,411.15 444.5,410.6 445.42,410.15 446.35,409.74 447.27,409.36 448.2,409 449.35,408.56 451.58,407.78 453.8,407.04 456.03,406.34 458.25,405.66 460.48,405 462.7,404.36 464.93,403.74 467.15,403.13 469.38,402.53 471.6,401.95 473.83,401.37 476.05,400.81 478.28,400.25 480.5,399.7 482.73,399.15 484.95,398.62 487.18,398.08 489.4,397.56 491.62,397.04 493.85,396.53 496.07,396.02 498.3,395.51 500.52,395.01 502.75,394.51 504.97,394.02 507.2,393.53 509.42,393.05 511.65,392.57 513.87,392.09 516.1,391.61 518.32,391.14 520.55,390.67 522.77,390.21 525,389.75 527.22,389.29 529.45,388.83 531.67,388.37 533.9,387.92 536.12,387.47" stroke="#C23466" class="ln"/>
<polyline points="443.57,411.15 444.5,409.9 445.42,408.93 446.35,408.09 447.27,407.34 448.2,406.66 449.35,405.88 451.58,404.52 453.8,403.31 456.03,402.2 458.25,401.17 460.48,400.21 462.7,399.29 464.93,398.42 467.15,397.59 469.38,396.79 471.6,396.02 473.83,395.28 476.05,394.56 478.28,393.86 480.5,393.18 482.73,392.51 484.95,391.87 487.18,391.23 489.4,390.62 491.62,390.01 493.85,389.42 496.07,388.83 498.3,388.26 500.52,387.7 502.75,387.15 504.97,386.6 507.2,386.07 509.42,385.54 511.65,385.02 513.87,384.51 516.1,384.01 518.32,383.51 520.55,383.02 522.77,382.53 525,382.05 527.22,381.58 529.45,381.11 531.67,380.65 533.9,380.19 536.12,379.73" stroke="#A93BDC" class="ln"/>
<polyline points="443.57,411.15 444.5,409.67 445.42,408.48 446.35,407.46 447.27,406.56 448.2,405.73 449.35,404.79 451.58,403.19 453.8,401.77 456.03,400.48 458.25,399.31 460.48,398.21 462.7,397.18 464.93,396.21 467.15,395.28 469.38,394.4 471.6,393.55 473.83,392.74 476.05,391.96 478.28,391.2 480.5,390.46 482.73,389.75 484.95,389.06 487.18,388.39 489.4,387.73 491.62,387.09 493.85,386.46 496.07,385.85 498.3,385.25 500.52,384.66 502.75,384.09 504.97,383.52 507.2,382.97 509.42,382.43 511.65,381.89 513.87,381.36 516.1,380.85 518.32,380.34 520.55,379.83 522.77,379.34 525,378.85 527.22,378.37 529.45,377.9 531.67,377.43 533.9,376.97 536.12,376.51" stroke="#4671EF" class="ln"/>
<polyline points="443.57,411.15 444.5,409.34 445.42,408.04 446.35,406.96 447.27,406.02 448.2,405.17 449.35,404.2 451.58,402.56 453.8,401.11 456.03,399.79 458.25,398.58 460.48,397.45 462.7,396.39 464.93,395.38 467.15,394.42 469.38,393.5 471.6,392.62 473.83,391.77 476.05,390.95 478.28,390.15 480.5,389.38 482.73,388.63 484.95,387.9 487.18,387.19 489.4,386.49 491.62,385.81 493.85,385.15 496.07,384.49 498.3,383.86 500.52,383.23 502.75,382.61 504.97,382.01 507.2,381.41 509.42,380.83 511.65,380.25 513.87,379.69 516.1,379.13 518.32,378.58 520.55,378.04 522.77,377.5 525,376.97 527.22,376.45 529.45,375.94 531.67,375.43 533.9,374.93 536.12,374.43" stroke="#2F9052" class="ln"/>
<line x1="435.42" x2="439.22" y1="411.3" y2="411.3" class="tk"/>
<line x1="435.42" x2="439.22" y1="394.07" y2="394.07" class="tk"/>
<line x1="435.42" x2="439.22" y1="376.85" y2="376.85" class="tk"/>
<line x1="443.57" x2="443.57" y1="413.7" y2="416.95" class="tk"/>
<line x1="466.71" x2="466.71" y1="413.7" y2="416.95" class="tk"/>
<line x1="489.85" x2="489.85" y1="413.7" y2="416.95" class="tk"/>
<line x1="512.98" x2="512.98" y1="413.7" y2="416.95" class="tk"/>
<line x1="536.12" x2="536.12" y1="413.7" y2="416.95" class="tk"/>
<text x="433.47" y="413.55" class="yl">0</text>
<text x="433.47" y="396.32" class="yl">0.25</text>
<text x="433.47" y="379.1" class="yl">0.5</text>
<text x="443.57" y="424.25" class="xl">0</text>
<text x="466.71" y="424.25" class="xl">0.05</text>
<text x="489.85" y="424.25" class="xl">0.1</text>
<text x="512.98" y="424.25" class="xl">0.15</text>
<text x="536.12" y="424.25" class="xl">0.2</text>
<text x="492.27" y="368.55" class="ti">N=20&#160;&#160;&#160;T=1000</text>
<line x1="22.75" x2="129.35" y1="479.64" y2="479.64" class="mn"/>
<line x1="22.75" x2="129.35" y1="462.41" y2="462.41" class="mn"/>
<line x1="22.75" x2="129.35" y1="488.25" y2="488.25" class="mj"/>
<line x1="22.75" x2="129.35" y1="471.02" y2="471.02" class="mj"/>
<line x1="22.75" x2="129.35" y1="453.8" y2="453.8" class="mj"/>
<line x1="27.35" x2="27.35" y1="447.75" y2="490.8" class="mj"/>
<line x1="50.49" x2="50.49" y1="447.75" y2="490.8" class="mj"/>
<line x1="73.62" x2="73.62" y1="447.75" y2="490.8" class="mj"/>
<line x1="96.76" x2="96.76" y1="447.75" y2="490.8" class="mj"/>
<line x1="119.9" x2="119.9" y1="447.75" y2="490.8" class="mj"/>
<polyline points="27.35,488.25 28.28,488.08 29.2,487.9 30.13,487.73 31.05,487.55 31.98,487.38 33.13,487.16 35.36,486.75 37.58,486.34 39.81,485.93 42.03,485.52 44.26,485.11 46.48,484.71 48.71,484.3 50.93,483.9 53.16,483.5 55.38,483.1 57.61,482.7 59.83,482.31 62.06,481.91 64.28,481.52 66.51,481.13 68.73,480.73 70.96,480.35 73.18,479.96 75.4,479.57 77.63,479.18 79.85,478.8 82.08,478.42 84.3,478.03 86.53,477.65 88.75,477.27 90.98,476.89 93.2,476.52 95.43,476.14 97.65,475.77 99.88,475.39 102.1,475.02 104.33,474.64 106.55,474.27 108.78,473.9 111,473.53 113.23,473.16 115.45,472.8 117.68,472.43 119.9,472.06" stroke="#C23466" class="ln"/>
<polyline points="27.35,488.25 28.28,488.07 29.2,487.9 30.13,487.73 31.05,487.55 31.98,487.38 33.13,487.16 35.36,486.74 37.58,486.33 39.81,485.92 42.03,485.51 44.26,485.1 46.48,484.69 48.71,484.28 50.93,483.88 53.16,483.47 55.38,483.07 57.61,482.67 59.83,482.27 62.06,481.88 64.28,481.48 66.51,481.08 68.73,480.69 70.96,480.3 73.18,479.91 75.4,479.52 77.63,479.13 79.85,478.74 82.08,478.35 84.3,477.97 86.53,477.58 88.75,477.2 90.98,476.82 93.2,476.44 95.43,476.06 97.65,475.68 99.88,475.3 102.1,474.92 104.33,474.54 106.55,474.17 108.78,473.79 111,473.42 113.23,473.05 115.45,472.68 117.68,472.3 119.9,471.93" stroke="#A93BDC" class="ln"/>
<polyline points="27.35,488.25 28.28,488.07 29.2,487.89 30.13,487.71 31.05,487.53 31.98,487.35 33.13,487.12 35.36,486.69 37.58,486.26 39.81,485.83 42.03,485.4 44.26,484.98 46.48,484.55 48.71,484.13 50.93,483.7 53.16,483.28 55.38,482.86 57.61,482.44 59.83,482.02 62.06,481.6 64.28,481.18 66.51,480.77 68.73,480.35 70.96,479.93 73.18,479.52 75.4,479.11 77.63,478.69 79.85,478.28 82.08,477.87 84.3,477.46 86.53,477.05 88.75,476.64 90.98,476.23 93.2,475.82 95.43,475.42 97.65,475.01 99.88,474.61 102.1,474.2 104.33,473.8 106.55,473.39 108.78,472.99 111,472.59 113.23,472.19 115.45,471.79 117.68,471.39 119.9,470.99" stroke="#4671EF" class="ln"/>
<polyline points="27.35,488.25 28.28,488.07 29.2,487.9 30.13,487.72 31.05,487.55 31.98,487.37 33.13,487.15 35.36,486.73 37.58,486.31 39.81,485.89 42.03,485.48 44.26,485.06 46.48,484.64 48.71,484.23 50.93,483.81 53.16,483.4 55.38,482.99 57.61,482.58 59.83,482.17 62.06,481.76 64.28,481.35 66.51,480.94 68.73,480.53 70.96,480.12 73.18,479.72 75.4,479.31 77.63,478.91 79.85,478.5 82.08,478.1 84.3,477.7 86.53,477.29 88.75,476.89 90.98,476.49 93.2,476.09 95.43,475.69 97.65,475.29 99.88,474.89 102.1,474.49 104.33,474.1 106.55,473.7 108.78,473.3 111,472.91 113.23,472.51 115.45,472.12 117.68,471.72 119.9,471.33" stroke="#2F9052" class="ln"/>
<line x1="19.2" x2="23" y1="488.4" y2="488.4" class="tk"/>
<line x1="19.2" x2="23" y1="471.17" y2="471.17" class="tk"/>
<line x1="19.2" x2="23" y1="453.95" y2="453.95" class="tk"/>
<line x1="27.35" x2="27.35" y1="490.8" y2="494.05" class="tk"/>
<line x1="50.49" x2="50.49" y1="490.8" y2="494.05" class="tk"/>
<line x1="73.62" x2="73.62" y1="490.8" y2="494.05" class="tk"/>
<line x1="96.76" x2="96.76" y1="490.8" y2="494.05" class="tk"/>
<line x1="119.9" x2="119.9" y1="490.8" y2="494.05" class="tk"/>
<text x="17.25" y="490.65" class="yl">0</text>
<text x="17.25" y="473.42" class="yl">0.25</text>
<text x="17.25" y="456.2" class="yl">0.5</text>
<text x="27.35" y="501.35" class="xl">0</text>
<text x="50.49" y="501.35" class="xl">0.05</text>
<text x="73.62" y="501.35" class="xl">0.1</text>
<text x="96.76" y="501.35" class="xl">0.15</text>
<text x="119.9" y="501.35" class="xl">0.2</text>
<text x="76.05" y="445.65" class="ti">N=2&#160;&#160;&#160;T=2000</text>
<line x1="161.49" x2="268.09" y1="479.64" y2="479.64" class="mn"/>
<line x1="161.49" x2="268.09" y1="462.41" y2="462.41" class="mn"/>
<line x1="161.49" x2="268.09" y1="488.25" y2="488.25" class="mj"/>
<line x1="161.49" x2="268.09" y1="471.02" y2="471.02" class="mj"/>
<line x1="161.49" x2="268.09" y1="453.8" y2="453.8" class="mj"/>
<line x1="166.09" x2="166.09" y1="447.75" y2="490.8" class="mj"/>
<line x1="189.23" x2="189.23" y1="447.75" y2="490.8" class="mj"/>
<line x1="212.37" x2="212.37" y1="447.75" y2="490.8" class="mj"/>
<line x1="235.5" x2="235.5" y1="447.75" y2="490.8" class="mj"/>
<line x1="258.64" x2="258.64" y1="447.75" y2="490.8" class="mj"/>
<polyline points="166.09,488.25 167.02,488.01 167.94,487.76 168.87,487.52 169.79,487.28 170.72,487.05 171.87,486.75 174.1,486.19 176.32,485.64 178.55,485.1 180.77,484.56 183,484.03 185.22,483.51 187.45,483 189.67,482.49 191.9,481.99 194.12,481.5 196.35,481.01 198.57,480.53 200.8,480.05 203.02,479.58 205.25,479.12 207.47,478.66 209.7,478.2 211.92,477.75 214.14,477.31 216.37,476.87 218.59,476.43 220.82,476 223.04,475.57 225.27,475.15 227.49,474.73 229.72,474.32 231.94,473.91 234.17,473.5 236.39,473.1 238.62,472.7 240.84,472.3 243.07,471.91 245.29,471.52 247.52,471.13 249.74,470.75 251.97,470.37 254.19,469.99 256.42,469.62 258.64,469.25" stroke="#C23466" class="ln"/>
<polyline points="166.09,488.25 167.02,487.98 167.94,487.7 168.87,487.43 169.79,487.16 170.72,486.9 171.87,486.56 174.1,485.93 176.32,485.3 178.55,484.68 180.77,484.06 183,483.45 185.22,482.85 187.45,482.25 189.67,481.66 191.9,481.07 194.12,480.49 196.35,479.91 198.57,479.34 200.8,478.78 203.02,478.22 205.25,477.66 207.47,477.11 209.7,476.56 211.92,476.02 214.14,475.48 216.37,474.94 218.59,474.41 220.82,473.88 223.04,473.36 225.27,472.84 227.49,472.33 229.72,471.82 231.94,471.31 234.17,470.8 236.39,470.3 238.62,469.8 240.84,469.31 243.07,468.82 245.29,468.33 247.52,467.84 249.74,467.36 251.97,466.88 254.19,466.4 256.42,465.93 258.64,465.46" stroke="#A93BDC" class="ln"/>
<polyline points="166.09,488.25 167.02,487.96 167.94,487.68 168.87,487.4 169.79,487.12 170.72,486.83 171.87,486.49 174.1,485.82 176.32,485.17 178.55,484.52 180.77,483.87 183,483.24 185.22,482.61 187.45,481.99 189.67,481.37 191.9,480.76 194.12,480.16 196.35,479.56 198.57,478.96 200.8,478.38 203.02,477.79 205.25,477.21 207.47,476.64 209.7,476.07 211.92,475.51 214.14,474.95 216.37,474.4 218.59,473.85 220.82,473.3 223.04,472.76 225.27,472.23 227.49,471.69 229.72,471.16 231.94,470.64 234.17,470.12 236.39,469.6 238.62,469.08 240.84,468.57 243.07,468.07 245.29,467.56 247.52,467.06 249.74,466.57 251.97,466.07 254.19,465.58 256.42,465.09 258.64,464.61" stroke="#4671EF" class="ln"/>
<polyline points="166.09,488.25 167.02,487.96 167.94,487.68 168.87,487.4 169.79,487.12 170.72,486.83 171.87,486.49 174.1,485.82 176.32,485.17 178.55,484.52 180.77,483.87 183,483.24 185.22,482.61 187.45,481.99 189.67,481.37 191.9,480.76 194.12,480.16 196.35,479.56 198.57,478.96 200.8,478.38 203.02,477.79 205.25,477.21 207.47,476.64 209.7,476.07 211.92,475.51 214.14,474.95 216.37,474.4 218.59,473.85 220.82,473.3 223.04,472.76 225.27,472.23 227.49,471.69 229.72,471.16 231.94,470.64 234.17,470.12 236.39,469.6 238.62,469.08 240.84,468.57 243.07,468.07 245.29,467.56 247.52,467.06 249.74,466.57 251.97,466.07 254.19,465.58 256.42,465.09 258.64,464.61" stroke="#2F9052" class="ln"/>
<line x1="157.94" x2="161.74" y1="488.4" y2="488.4" class="tk"/>
<line x1="157.94" x2="161.74" y1="471.17" y2="471.17" class="tk"/>
<line x1="157.94" x2="161.74" y1="453.95" y2="453.95" class="tk"/>
<line x1="166.09" x2="166.09" y1="490.8" y2="494.05" class="tk"/>
<line x1="189.23" x2="189.23" y1="490.8" y2="494.05" class="tk"/>
<line x1="212.37" x2="212.37" y1="490.8" y2="494.05" class="tk"/>
<line x1="235.5" x2="235.5" y1="490.8" y2="494.05" class="tk"/>
<line x1="258.64" x2="258.64" y1="490.8" y2="494.05" class="tk"/>
<text x="155.99" y="490.65" class="yl">0</text>
<text x="155.99" y="473.42" class="yl">0.25</text>
<text x="155.99" y="456.2" class="yl">0.5</text>
<text x="166.09" y="501.35" class="xl">0</text>
<text x="189.23" y="501.35" class="xl">0.05</text>
<text x="212.37" y="501.35" class="xl">0.1</text>
<text x="235.5" y="501.35" class="xl">0.15</text>
<text x="258.64" y="501.35" class="xl">0.2</text>
<text x="214.79" y="445.65" class="ti">N=5&#160;&#160;&#160;T=2000</text>
<line x1="300.23" x2="406.83" y1="479.64" y2="479.64" class="mn"/>
<line x1="300.23" x2="406.83" y1="462.41" y2="462.41" class="mn"/>
<line x1="300.23" x2="406.83" y1="488.25" y2="488.25" class="mj"/>
<line x1="300.23" x2="406.83" y1="471.02" y2="471.02" class="mj"/>
<line x1="300.23" x2="406.83" y1="453.8" y2="453.8" class="mj"/>
<line x1="304.83" x2="304.83" y1="447.75" y2="490.8" class="mj"/>
<line x1="327.97" x2="327.97" y1="447.75" y2="490.8" class="mj"/>
<line x1="351.11" x2="351.11" y1="447.75" y2="490.8" class="mj"/>
<line x1="374.24" x2="374.24" y1="447.75" y2="490.8" class="mj"/>
<line x1="397.38" x2="397.38" y1="447.75" y2="490.8" class="mj"/>
<polyline points="304.83,488.25 305.76,487.81 306.68,487.44 307.61,487.1 308.53,486.78 309.46,486.47 310.61,486.09 312.84,485.41 315.06,484.75 317.29,484.13 319.51,483.52 321.74,482.92 323.96,482.34 326.19,481.78 328.41,481.22 330.64,480.67 332.86,480.13 335.09,479.6 337.31,479.07 339.54,478.55 341.76,478.04 343.99,477.53 346.21,477.02 348.44,476.52 350.66,476.03 352.88,475.54 355.11,475.05 357.33,474.57 359.56,474.09 361.78,473.62 364.01,473.14 366.23,472.68 368.46,472.21 370.68,471.75 372.91,471.28 375.13,470.83 377.36,470.37 379.58,469.92 381.81,469.47 384.03,469.02 386.26,468.57 388.48,468.13 390.71,467.69 392.93,467.25 395.16,466.81 397.38,466.37" stroke="#C23466" class="ln"/>
<polyline points="304.83,488.25 305.76,487.47 306.68,486.87 307.61,486.35 308.53,485.87 309.46,485.42 310.61,484.89 312.84,483.95 315.06,483.09 317.29,482.27 319.51,481.49 321.74,480.75 323.96,480.03 326.19,479.34 328.41,478.66 330.64,478.01 332.86,477.37 335.09,476.74 337.31,476.13 339.54,475.53 341.76,474.94 343.99,474.36 346.21,473.79 348.44,473.22 350.66,472.67 352.88,472.12 355.11,471.58 357.33,471.05 359.56,470.52 361.78,470 364.01,469.49 366.23,468.98 368.46,468.47 370.68,467.97 372.91,467.48 375.13,466.99 377.36,466.5 379.58,466.02 381.81,465.54 384.03,465.07 386.26,464.6 388.48,464.13 390.71,463.67 392.93,463.21 395.16,462.76 397.38,462.3" stroke="#A93BDC" class="ln"/>
<polyline points="304.83,488.25 305.76,487.46 306.68,486.85 307.61,486.31 308.53,485.81 309.46,485.35 310.61,484.8 312.84,483.82 315.06,482.91 317.29,482.06 319.51,481.24 321.74,480.46 323.96,479.71 326.19,478.97 328.41,478.26 330.64,477.57 332.86,476.89 335.09,476.23 337.31,475.58 339.54,474.94 341.76,474.31 343.99,473.7 346.21,473.09 348.44,472.49 350.66,471.9 352.88,471.32 355.11,470.74 357.33,470.17 359.56,469.61 361.78,469.06 364.01,468.51 366.23,467.96 368.46,467.43 370.68,466.89 372.91,466.36 375.13,465.84 377.36,465.32 379.58,464.8 381.81,464.29 384.03,463.79 386.26,463.28 388.48,462.78 390.71,462.29 392.93,461.8 395.16,461.31 397.38,460.82" stroke="#4671EF" class="ln"/>
<polyline points="304.83,488.25 305.76,487.34 306.68,486.66 307.61,486.06 308.53,485.52 309.46,485.01 310.61,484.42 312.84,483.36 315.06,482.38 317.29,481.47 319.51,480.6 321.74,479.76 323.96,478.96 326.19,478.19 328.41,477.44 330.64,476.71 332.86,476 335.09,475.3 337.31,474.62 339.54,473.96 341.76,473.3 343.99,472.66 346.21,472.03 348.44,471.4 350.66,470.79 352.88,470.18 355.11,469.59 357.33,469 359.56,468.42 361.78,467.84 364.01,467.28 366.23,466.71 368.46,466.16 370.68,465.61 372.91,465.06 375.13,464.53 377.36,463.99 379.58,463.46 381.81,462.94 384.03,462.42 386.26,461.9 388.48,461.39 390.71,460.88 392.93,460.38 395.16,459.88 397.38,459.38" stroke="#2F9052" class="ln"/>
<line x1="296.68" x2="300.48" y1="488.4" y2="488.4" class="tk"/>
<line x1="296.68" x2="300.48" y1="471.17" y2="471.17" class="tk"/>
<line x1="296.68" x2="300.48" y1="453.95" y2="453.95" class="tk"/>
<line x1="304.83" x2="304.83" y1="490.8" y2="494.05" class="tk"/>
<line x1="327.97" x2="327.97" y1="490.8" y2="494.05" class="tk"/>
<line x1="351.11" x2="351.11" y1="490.8" y2="494.05" class="tk"/>
<line x1="374.24" x2="374.24" y1="490.8" y2="494.05" class="tk"/>
<line x1="397.38" x2="397.38" y1="490.8" y2="494.05" class="tk"/>
<text x="294.73" y="490.65" class="yl">0</text>
<text x="294.73" y="473.42" class="yl">0.25</text>
<text x="294.73" y="456.2" class="yl">0.5</text>
<text x="304.83" y="501.35" class="xl">0</text>
<text x="327.97" y="501.35" class="xl">0.05</text>
<text x="351.11" y="501.35" class="xl">0.1</text>
<text x="374.24" y="501.35" class="xl">0.15</text>
<text x="397.38" y="501.35" class="xl">0.2</text>
<text x="353.53" y="445.65" class="ti">N=10&#160;&#160;&#160;T=2000</text>
<line x1="438.97" x2="545.57" y1="479.64" y2="479.64" class="mn"/>
<line x1="438.97" x2="545.57" y1="462.41" y2="462.41" class="mn"/>
<line x1="438.97" x2="545.57" y1="488.25" y2="488.25" class="mj"/>
<line x1="438.97" x2="545.57" y1="471.02" y2="471.02" class="mj"/>
<line x1="438.97" x2="545.57" y1="453.8" y2="453.8" class="mj"/>
<line x1="443.57" x2="443.57" y1="447.75" y2="490.8" class="mj"/>
<line x1="466.71" x2="466.71" y1="447.75" y2="490.8" class="mj"/>
<line x1="489.85" x2="489.85" y1="447.75" y2="490.8" class="mj"/>
<line x1="512.98" x2="512.98" y1="447.75" y2="490.8" class="mj"/>
<line x1="536.12" x2="536.12" y1="447.75" y2="490.8" class="mj"/>
<polyline points="443.57,488.25 444.5,487.63 445.42,487.11 446.35,486.64 447.27,486.21 448.2,485.8 449.35,485.32 451.58,484.45 453.8,483.65 456.03,482.89 458.25,482.17 460.48,481.47 462.7,480.8 464.93,480.15 467.15,479.52 469.38,478.91 471.6,478.31 473.83,477.72 476.05,477.14 478.28,476.58 480.5,476.02 482.73,475.48 484.95,474.94 487.18,474.41 489.4,473.89 491.62,473.37 493.85,472.86 496.07,472.36 498.3,471.87 500.52,471.38 502.75,470.89 504.97,470.41 507.2,469.93 509.42,469.46 511.65,469 513.87,468.53 516.1,468.08 518.32,467.62 520.55,467.17 522.77,466.72 525,466.28 527.22,465.84 529.45,465.4 531.67,464.97 533.9,464.54 536.12,464.11" stroke="#C23466" class="ln"/>
<polyline points="443.57,488.25 444.5,487.04 445.42,486.06 446.35,485.22 447.27,484.46 448.2,483.76 449.35,482.96 451.58,481.59 453.8,480.36 456.03,479.24 458.25,478.21 460.48,477.25 462.7,476.34 464.93,475.47 467.15,474.65 469.38,473.86 471.6,473.1 473.83,472.37 476.05,471.66 478.28,470.98 480.5,470.31 482.73,469.67 484.95,469.04 487.18,468.42 489.4,467.83 491.62,467.24 493.85,466.67 496.07,466.1 498.3,465.55 500.52,465.01 502.75,464.48 504.97,463.96 507.2,463.45 509.42,462.95 511.65,462.45 513.87,461.96 516.1,461.48 518.32,461.01 520.55,460.54 522.77,460.08 525,459.62 527.22,459.17 529.45,458.73 531.67,458.29 533.9,457.86 536.12,457.43" stroke="#A93BDC" class="ln"/>
<polyline points="443.57,488.25 444.5,486.7 445.42,485.51 446.35,484.5 447.27,483.61 448.2,482.8 449.35,481.89 451.58,480.32 453.8,478.93 456.03,477.68 458.25,476.53 460.48,475.45 462.7,474.44 464.93,473.49 467.15,472.58 469.38,471.71 471.6,470.88 473.83,470.07 476.05,469.3 478.28,468.55 480.5,467.82 482.73,467.11 484.95,466.42 487.18,465.75 489.4,465.1 491.62,464.46 493.85,463.84 496.07,463.23 498.3,462.63 500.52,462.04 502.75,461.47 504.97,460.9 507.2,460.35 509.42,459.8 511.65,459.26 513.87,458.74 516.1,458.22 518.32,457.7 520.55,457.2 522.77,456.7 525,456.21 527.22,455.72 529.45,455.25 531.67,454.77 533.9,454.31 536.12,453.85" stroke="#4671EF" class="ln"/>
<polyline points="443.57,488.25 444.5,486.64 445.42,485.37 446.35,484.3 447.27,483.35 448.2,482.49 449.35,481.51 451.58,479.84 453.8,478.37 456.03,477.05 458.25,475.83 460.48,474.7 462.7,473.64 464.93,472.64 467.15,471.68 469.38,470.77 471.6,469.9 473.83,469.07 476.05,468.26 478.28,467.48 480.5,466.73 482.73,465.99 484.95,465.28 487.18,464.59 489.4,463.91 491.62,463.26 493.85,462.61 496.07,461.98 498.3,461.37 500.52,460.77 502.75,460.17 504.97,459.59 507.2,459.02 509.42,458.47 511.65,457.92 513.87,457.37 516.1,456.84 518.32,456.32 520.55,455.8 522.77,455.29 525,454.79 527.22,454.3 529.45,453.81 531.67,453.33 533.9,452.86 536.12,452.39" stroke="#2F9052" class="ln"/>
<line x1="435.42" x2="439.22" y1="488.4" y2="488.4" class="tk"/>
<line x1="435.42" x2="439.22" y1="471.17" y2="471.17" class="tk"/>
<line x1="435.42" x2="439.22" y1="453.95" y2="453.95" class="tk"/>
<line x1="443.57" x2="443.57" y1="490.8" y2="494.05" class="tk"/>
<line x1="466.71" x2="466.71" y1="490.8" y2="494.05" class="tk"/>
<line x1="489.85" x2="489.85" y1="490.8" y2="494.05" class="tk"/>
<line x1="512.98" x2="512.98" y1="490.8" y2="494.05" class="tk"/>
<line x1="536.12" x2="536.12" y1="490.8" y2="494.05" class="tk"/>
<text x="433.47" y="490.65" class="yl">0</text>
<text x="433.47" y="473.42" class="yl">0.25</text>
<text x="433.47" y="456.2" class="yl">0.5</text>
<text x="443.57" y="501.35" class="xl">0</text>
<text x="466.71" y="501.35" class="xl">0.05</text>
<text x="489.85" y="501.35" class="xl">0.1</text>
<text x="512.98" y="501.35" class="xl">0.15</text>
<text x="536.12" y="501.35" class="xl">0.2</text>
<text x="492.27" y="445.65" class="ti">N=20&#160;&#160;&#160;T=2000</text>
</svg></body></html>
